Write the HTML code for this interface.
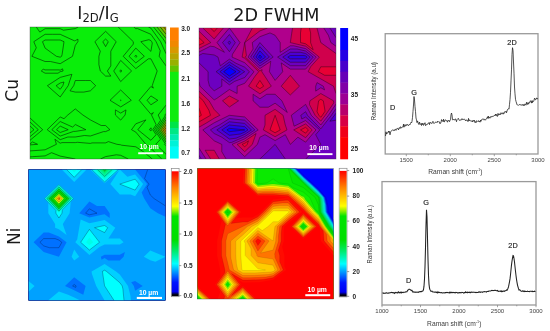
<!DOCTYPE html>
<html><head><meta charset="utf-8"><style>
html,body{margin:0;padding:0;background:#fff;}
body{width:550px;height:331px;overflow:hidden;position:relative;}
svg{position:absolute;left:0;top:0;}
.t{font-family:"DejaVu Sans",sans-serif;fill:#1a1a1a;}
.cb{font-family:"Liberation Sans",Arial,sans-serif;font-weight:bold;font-size:6.5px;fill:#222;}
.ax{font-family:"Liberation Sans",Arial,sans-serif;font-size:6px;fill:#444;}
.yl{font-family:"Liberation Sans",Arial,sans-serif;font-size:6.7px;fill:#333;}
.pk{font-family:"Liberation Sans",Arial,sans-serif;font-size:7.3px;fill:#222;stroke:#222;stroke-width:0.15px;}
.lb{font-family:"Liberation Sans",Arial,sans-serif;font-size:7.5px;fill:#3a3a3a;}
.sb{font-family:"Liberation Sans",Arial,sans-serif;font-weight:bold;font-size:6.8px;fill:#fff;}
</style></head><body>
<svg width="550" height="331" viewBox="0 0 550 331">
<defs><linearGradient id="rb3" x1="0" y1="1" x2="0" y2="0"><stop offset="0" stop-color="#000000"/><stop offset="0.012" stop-color="#000014"/><stop offset="0.035" stop-color="#0000f0"/><stop offset="0.11" stop-color="#0014ff"/><stop offset="0.26" stop-color="#00ffff"/><stop offset="0.36" stop-color="#00eb6e"/><stop offset="0.45" stop-color="#00de00"/><stop offset="0.64" stop-color="#00e400"/><stop offset="0.68" stop-color="#8cf000"/><stop offset="0.72" stop-color="#ffff00"/><stop offset="0.87" stop-color="#ff8000"/><stop offset="1.0" stop-color="#ff0000"/></linearGradient><linearGradient id="rb4" x1="0" y1="1" x2="0" y2="0"><stop offset="0" stop-color="#000000"/><stop offset="0.012" stop-color="#000014"/><stop offset="0.035" stop-color="#0000f0"/><stop offset="0.11" stop-color="#0014ff"/><stop offset="0.26" stop-color="#00ffff"/><stop offset="0.36" stop-color="#00eb6e"/><stop offset="0.45" stop-color="#00de00"/><stop offset="0.64" stop-color="#00e400"/><stop offset="0.68" stop-color="#8cf000"/><stop offset="0.72" stop-color="#ffff00"/><stop offset="0.87" stop-color="#ff8000"/><stop offset="1.0" stop-color="#ff0000"/></linearGradient></defs>
<clipPath id="c1"><rect x="30" y="27" width="136" height="132"/></clipPath><g clip-path="url(#c1)">
<rect x="30" y="27" width="136" height="132" fill="#00f9ed"/>
<path d="M30.0 27.0L45.1 27.0L60.2 27.0L75.3 27.0L90.4 27.0L105.6 27.0L120.7 27.0L135.8 27.0L150.9 27.0L166.0 27.0L166.0 41.7L166.0 56.3L166.0 71.0L166.0 85.7L166.0 100.3L166.0 115.0L166.0 129.7L166.0 144.3L166.0 159.0L150.9 159.0L135.8 159.0L120.7 159.0L105.6 159.0L90.4 159.0L75.3 159.0L60.2 159.0L45.1 159.0L30.0 159.0L30.0 144.3L30.0 129.7L30.0 115.0L30.0 100.3L30.0 85.7L30.0 71.0L30.0 56.3L30.0 41.7Z" fill="#00f2d7" fill-rule="evenodd"/>
<path d="M30.0 27.0L45.1 27.0L60.2 27.0L75.3 27.0L90.4 27.0L105.6 27.0L120.7 27.0L135.8 27.0L150.9 27.0L166.0 27.0L166.0 41.7L166.0 56.3L166.0 71.0L166.0 85.7L166.0 100.3L166.0 115.0L166.0 129.7L166.0 144.3L166.0 159.0L150.9 159.0L135.8 159.0L120.7 159.0L105.6 159.0L90.4 159.0L75.3 159.0L60.2 159.0L45.1 159.0L30.0 159.0L30.0 144.3L30.0 129.7L30.0 115.0L30.0 100.3L30.0 85.7L30.0 71.0L30.0 56.3L30.0 41.7Z" fill="#00ecb1" fill-rule="evenodd"/>
<path d="M30.0 27.0L45.1 27.0L60.2 27.0L75.3 27.0L90.4 27.0L105.6 27.0L120.7 27.0L135.8 27.0L150.9 27.0L166.0 27.0L166.0 41.7L166.0 56.3L166.0 71.0L166.0 85.7L166.0 100.3L166.0 115.0L166.0 129.7L166.0 144.3L166.0 159.0L150.9 159.0L135.8 159.0L120.7 159.0L105.6 159.0L90.4 159.0L75.3 159.0L60.2 159.0L45.1 159.0L30.0 159.0L30.0 144.3L30.0 129.7L30.0 115.0L30.0 100.3L30.0 85.7L30.0 71.0L30.0 56.3L30.0 41.7Z" fill="#00e883" fill-rule="evenodd"/>
<path d="M30.0 27.0L45.1 27.0L60.2 27.0L75.3 27.0L90.4 27.0L105.6 27.0L120.7 27.0L135.8 27.0L150.9 27.0L166.0 27.0L166.0 41.7L166.0 56.3L166.0 71.0L166.0 85.7L166.0 100.3L166.0 115.0L166.0 129.7L166.0 144.3L166.0 159.0L150.9 159.0L135.8 159.0L120.7 159.0L105.6 159.0L90.4 159.0L75.3 159.0L60.2 159.0L45.1 159.0L30.0 159.0L30.0 144.3L30.0 129.7L30.0 115.0L30.0 100.3L30.0 85.7L30.0 71.0L30.0 56.3L30.0 41.7Z" fill="#00e449" fill-rule="evenodd"/>
<path d="M30.0 27.0L45.1 27.0L60.2 27.0L75.3 27.0L90.4 27.0L105.6 27.0L120.7 27.0L135.8 27.0L150.9 27.0L166.0 27.0L166.0 41.7L166.0 56.3L166.0 71.0L166.0 85.7L166.0 100.3L166.0 115.0L166.0 129.7L166.0 144.3L166.0 159.0L150.9 159.0L135.8 159.0L120.7 159.0L105.6 159.0L90.4 159.0L75.3 159.0L60.2 159.0L45.1 159.0L30.0 159.0L30.0 144.3L30.0 129.7L30.0 115.0L30.0 100.3L30.0 85.7L30.0 71.0L30.0 56.3L30.0 41.7Z" fill="#0aee0a" fill-rule="evenodd"/>
<path d="M30.0 27.0L45.1 27.0L60.2 27.0L75.3 27.0L90.4 27.0L105.6 27.0L120.7 27.0L135.8 27.0L150.9 27.0L166.0 27.0L166.0 41.7L166.0 56.3L166.0 71.0L166.0 85.7L166.0 100.3L166.0 115.0L166.0 129.7L166.0 144.3L166.0 159.0L150.9 159.0L135.8 159.0L120.7 159.0L105.6 159.0L90.4 159.0L75.3 159.0L60.2 159.0L45.1 159.0L30.0 159.0L30.0 144.3L30.0 129.7L30.0 115.0L30.0 100.3L30.0 85.7L30.0 71.0L30.0 56.3L30.0 41.7Z" fill="#0aee0a" fill-rule="evenodd"/>
<path d="M30.0 133.0L34.0 129.7L30.0 126.0L30.0 115.0L30.0 100.3L30.0 85.7L30.0 71.0L30.0 56.3L30.0 41.7L30.0 27.0L45.1 27.0L60.2 27.0L75.3 27.0L90.4 27.0L105.6 27.0L120.7 27.0L135.8 27.0L150.9 27.0L166.0 27.0L166.0 41.7L166.0 56.3L166.0 71.0L166.0 85.7L166.0 100.3L166.0 115.0L166.0 129.7L166.0 144.3L166.0 159.0L150.9 159.0L135.8 159.0L120.7 159.0L105.6 159.0L90.4 159.0L75.3 159.0L60.2 159.0L45.1 159.0L30.0 159.0L30.0 144.3Z" fill="#0aee0a" fill-rule="evenodd"/>
<path d="M128.2 159.0L120.7 155.3L116.3 154.8L105.6 156.6L100.5 159.0L90.4 159.0L75.3 159.0L60.2 156.1L51.6 152.7L45.1 155.9L32.3 156.7L30.0 156.9L30.0 144.3L30.0 136.7L38.3 129.7L30.0 122.0L30.0 115.0L30.0 100.3L30.0 85.7L30.0 71.0L30.0 56.3L30.0 41.7L30.0 27.0L45.1 27.0L60.2 27.0L75.3 27.0L90.4 27.0L105.6 27.0L120.7 27.0L135.8 27.0L150.9 27.0L166.0 27.0L166.0 41.7L166.0 56.3L166.0 71.0L166.0 85.7L166.0 100.3L166.0 115.0L166.0 129.7L166.0 144.3L166.0 159.0L150.9 159.0L135.8 159.0ZM102.8 41.7L105.6 46.6L108.3 41.7L105.6 39.0Z" fill="#0aee0a" fill-rule="evenodd"/>
<path d="M36.3 27.0L39.8 32.1L45.1 28.7L46.9 28.7L60.2 28.7L63.5 30.2L75.3 28.6L78.2 27.0L90.4 27.0L105.6 27.0L120.7 27.0L135.8 27.0L150.9 27.0L166.0 27.0L166.0 41.7L166.0 56.3L166.0 71.0L166.0 85.7L166.0 100.3L166.0 115.0L166.0 129.7L166.0 144.3L166.0 159.0L152.1 159.0L150.9 157.8L143.3 151.7L135.8 146.8L121.6 145.2L120.7 144.8L116.9 144.3L108.4 141.6L105.6 142.9L92.0 142.9L90.4 143.4L77.4 142.3L75.3 142.6L62.0 142.6L60.2 143.2L54.9 139.2L56.4 144.3L45.1 149.8L39.0 150.3L30.0 150.9L30.0 144.3L30.0 140.3L42.7 129.7L30.0 118.0L30.0 115.0L30.0 100.3L30.0 85.7L30.0 71.0L30.0 56.3L30.0 41.7L30.0 27.0ZM94.9 41.7L100.3 51.2L98.9 56.3L98.9 64.6L100.3 71.0L105.6 76.1L110.8 76.1L107.4 71.0L110.8 65.9L110.8 56.3L110.8 51.2L116.2 41.7L105.6 31.3ZM43.2 69.2L41.3 71.0L45.1 73.2L58.0 73.2L60.2 71.7L63.1 71.0L62.5 68.8L60.2 70.2L59.1 69.9L45.1 69.9ZM73.7 85.7L70.0 90.8L75.3 92.1L83.8 92.1L90.4 90.8L95.7 85.7L90.4 80.5L85.2 80.5L75.3 80.5ZM115.4 109.9L115.4 115.0L120.7 120.1L125.1 115.0L126.0 109.9L120.7 113.1ZM149.4 129.7L150.9 130.9L151.5 130.2L151.1 129.7L151.5 129.1L150.9 127.8Z" fill="#0aee0a" fill-rule="evenodd"/>
<path d="M161.8 159.0L150.9 148.4L145.9 144.3L135.8 132.1L131.5 129.7L135.8 123.8L145.9 119.9L137.8 129.7L150.9 140.3L156.1 134.7L152.8 129.7L156.1 124.6L151.5 115.0L153.4 112.6L150.9 114.2L139.2 100.3L150.9 86.5L153.4 88.1L152.3 85.7L152.8 83.8L157.2 71.0L150.9 58.8L148.4 58.8L135.8 68.6L123.2 56.3L133.3 44.1L133.3 41.7L120.7 29.4L118.1 27.0L120.7 27.0L135.8 27.0L150.9 27.0L166.0 27.0L166.0 41.7L166.0 56.3L166.0 71.0L166.0 85.7L166.0 100.3L166.0 115.0L166.0 129.7L166.0 144.3L166.0 159.0ZM30.0 144.0L32.5 141.9L37.6 144.3L30.0 144.9L30.0 144.3ZM45.1 34.3L52.7 34.3L60.2 34.3L74.4 40.8L75.3 40.6L77.9 39.2L77.9 41.7L75.3 45.3L72.5 56.3L60.2 63.7L50.4 61.5L45.1 61.5L31.9 56.3L36.3 47.8L33.8 41.7ZM148.9 39.7L140.8 41.7L150.9 51.4L152.3 43.0L151.7 41.7L150.9 40.6ZM120.7 60.4L131.6 71.0L120.7 81.6L113.7 71.0ZM60.2 77.4L71.9 74.3L68.2 85.7L60.2 97.0L47.4 85.7ZM120.7 90.0L131.3 100.3L120.7 106.9L110.0 100.3ZM75.3 108.9L82.9 115.0L90.4 119.9L101.2 125.5L105.6 125.5L109.9 129.7L105.6 131.6L103.5 131.6L90.4 136.0L84.4 135.5L75.3 137.0L67.8 137.0L60.2 139.7L47.2 129.7L60.2 117.0L64.0 118.7L67.8 115.0Z" fill="#0aee0a" fill-rule="evenodd"/>
<path d="M166.0 65.9L159.2 56.3L160.2 50.7L156.1 41.7L150.9 34.3L137.3 28.5L135.8 28.8L133.9 27.0L135.8 27.0L150.9 27.0L166.0 27.0L166.0 41.7L166.0 56.3ZM166.0 154.2L155.8 144.3L160.6 139.1L154.5 129.7L160.6 120.2L158.2 115.0L166.0 105.1L166.0 115.0L166.0 129.7L166.0 144.3ZM45.1 40.0L58.5 40.0L60.2 40.0L64.0 41.7L62.1 54.5L61.6 56.3L60.2 57.2L56.4 56.3L45.1 48.1L42.5 41.7ZM135.8 48.1L144.3 56.3L135.8 62.9L129.0 56.3ZM120.7 69.8L121.9 71.0L120.7 72.2L119.9 71.0ZM60.2 83.0L64.0 82.0L62.8 85.7L60.2 89.3L56.1 85.7ZM120.7 99.9L121.1 100.3L120.7 100.6L120.2 100.3ZM150.9 95.9L157.8 100.3L150.9 104.8L147.1 100.3ZM60.2 121.5L72.7 127.1L75.3 124.5L85.9 129.7L75.3 131.4L73.6 131.4L60.2 136.1L51.8 129.7Z" fill="#0aee0a" fill-rule="evenodd"/>
<path d="M166.0 53.7L160.6 41.7L150.9 28.1L148.4 27.0L150.9 27.0L166.0 27.0L166.0 41.7ZM166.0 145.8L164.5 144.3L165.2 143.6L156.2 129.7L165.2 115.8L164.8 115.0L166.0 113.5L166.0 115.0L166.0 129.7L166.0 144.3ZM135.8 55.1L137.0 56.3L135.8 57.3L134.8 56.3ZM60.2 126.1L68.2 129.7L60.2 132.5L56.5 129.7Z" fill="#0aee0a" fill-rule="evenodd"/>
<path d="M166.0 43.8L165.0 41.7L162.9 38.6L153.6 27.0L166.0 27.0L166.0 41.7ZM166.0 142.2L157.9 129.7L166.0 117.1L166.0 129.7Z" fill="#1fe205" fill-rule="evenodd"/>
<path d="M166.0 38.4L157.0 27.0L166.0 27.0ZM166.0 139.6L159.5 129.7L166.0 119.7L166.0 129.7Z" fill="#54c900" fill-rule="evenodd"/>
<path d="M166.0 34.2L160.3 27.0L166.0 27.0ZM166.0 137.0L161.2 129.7L166.0 122.3L166.0 129.7Z" fill="#90b000" fill-rule="evenodd"/>
<path d="M166.0 29.9L163.7 27.0L166.0 27.0ZM166.0 134.4L162.9 129.7L166.0 124.9L166.0 129.7Z" fill="#c49500" fill-rule="evenodd"/>
<path d="M166.0 131.8L164.6 129.7L166.0 127.5L166.0 129.7Z" fill="#e57d00" fill-rule="evenodd"/>
<path d="M30.0 133.0L34.0 129.7L30.0 126.0" fill="none" stroke="#002800" stroke-width="0.8" stroke-opacity="0.75"/>
<path d="M128.2 159.0L120.7 155.3L116.3 154.8L105.6 156.6L100.5 159.0M75.3 159.0L60.2 156.1L51.6 152.7L45.1 155.9L32.3 156.7L30.0 156.9M30.0 136.7L38.3 129.7L30.0 122.0M102.8 41.7L105.6 46.6L108.3 41.7L105.6 39.0Z" fill="none" stroke="#002800" stroke-width="0.8" stroke-opacity="0.75"/>
<path d="M36.3 27.0L39.8 32.1L45.1 28.7L46.9 28.7L60.2 28.7L63.5 30.2L75.3 28.6L78.2 27.0M152.1 159.0L150.9 157.8L143.3 151.7L135.8 146.8L121.6 145.2L120.7 144.8L116.9 144.3L108.4 141.6L105.6 142.9L92.0 142.9L90.4 143.4L77.4 142.3L75.3 142.6L62.0 142.6L60.2 143.2L54.9 139.2L56.4 144.3L45.1 149.8L39.0 150.3L30.0 150.9M30.0 140.3L42.7 129.7L30.0 118.0M94.9 41.7L100.3 51.2L98.9 56.3L98.9 64.6L100.3 71.0L105.6 76.1L110.8 76.1L107.4 71.0L110.8 65.9L110.8 56.3L110.8 51.2L116.2 41.7L105.6 31.3ZM43.2 69.2L41.3 71.0L45.1 73.2L58.0 73.2L60.2 71.7L63.1 71.0L62.5 68.8L60.2 70.2L59.1 69.9L45.1 69.9ZM73.7 85.7L70.0 90.8L75.3 92.1L83.8 92.1L90.4 90.8L95.7 85.7L90.4 80.5L85.2 80.5L75.3 80.5ZM115.4 109.9L115.4 115.0L120.7 120.1L125.1 115.0L126.0 109.9L120.7 113.1ZM149.4 129.7L150.9 130.9L151.5 130.2L151.1 129.7L151.5 129.1L150.9 127.8Z" fill="none" stroke="#002800" stroke-width="0.8" stroke-opacity="0.75"/>
<path d="M161.8 159.0L150.9 148.4L145.9 144.3L135.8 132.1L131.5 129.7L135.8 123.8L145.9 119.9L137.8 129.7L150.9 140.3L156.1 134.7L152.8 129.7L156.1 124.6L151.5 115.0L153.4 112.6L150.9 114.2L139.2 100.3L150.9 86.5L153.4 88.1L152.3 85.7L152.8 83.8L157.2 71.0L150.9 58.8L148.4 58.8L135.8 68.6L123.2 56.3L133.3 44.1L133.3 41.7L120.7 29.4L118.1 27.0M30.0 144.0L32.5 141.9L37.6 144.3L30.0 144.9M45.1 34.3L52.7 34.3L60.2 34.3L74.4 40.8L75.3 40.6L77.9 39.2L77.9 41.7L75.3 45.3L72.5 56.3L60.2 63.7L50.4 61.5L45.1 61.5L31.9 56.3L36.3 47.8L33.8 41.7ZM148.9 39.7L140.8 41.7L150.9 51.4L152.3 43.0L151.7 41.7L150.9 40.6ZM120.7 60.4L131.6 71.0L120.7 81.6L113.7 71.0ZM60.2 77.4L71.9 74.3L68.2 85.7L60.2 97.0L47.4 85.7ZM120.7 90.0L131.3 100.3L120.7 106.9L110.0 100.3ZM75.3 108.9L82.9 115.0L90.4 119.9L101.2 125.5L105.6 125.5L109.9 129.7L105.6 131.6L103.5 131.6L90.4 136.0L84.4 135.5L75.3 137.0L67.8 137.0L60.2 139.7L47.2 129.7L60.2 117.0L64.0 118.7L67.8 115.0Z" fill="none" stroke="#002800" stroke-width="0.8" stroke-opacity="0.75"/>
<path d="M166.0 65.9L159.2 56.3L160.2 50.7L156.1 41.7L150.9 34.3L137.3 28.5L135.8 28.8L133.9 27.0M166.0 154.2L155.8 144.3L160.6 139.1L154.5 129.7L160.6 120.2L158.2 115.0L166.0 105.1M45.1 40.0L58.5 40.0L60.2 40.0L64.0 41.7L62.1 54.5L61.6 56.3L60.2 57.2L56.4 56.3L45.1 48.1L42.5 41.7ZM135.8 48.1L144.3 56.3L135.8 62.9L129.0 56.3ZM120.7 69.8L121.9 71.0L120.7 72.2L119.9 71.0ZM60.2 83.0L64.0 82.0L62.8 85.7L60.2 89.3L56.1 85.7ZM120.7 99.9L121.1 100.3L120.7 100.6L120.2 100.3ZM150.9 95.9L157.8 100.3L150.9 104.8L147.1 100.3ZM60.2 121.5L72.7 127.1L75.3 124.5L85.9 129.7L75.3 131.4L73.6 131.4L60.2 136.1L51.8 129.7Z" fill="none" stroke="#002800" stroke-width="0.8" stroke-opacity="0.75"/>
<path d="M166.0 53.7L160.6 41.7L150.9 28.1L148.4 27.0M166.0 145.8L164.5 144.3L165.2 143.6L156.2 129.7L165.2 115.8L164.8 115.0L166.0 113.5M135.8 55.1L137.0 56.3L135.8 57.3L134.8 56.3ZM60.2 126.1L68.2 129.7L60.2 132.5L56.5 129.7Z" fill="none" stroke="#002800" stroke-width="0.8" stroke-opacity="0.75"/>
<path d="M166.0 43.8L165.0 41.7L162.9 38.6L153.6 27.0M166.0 142.2L157.9 129.7L166.0 117.1" fill="none" stroke="#002800" stroke-width="0.8" stroke-opacity="0.75"/>
<path d="M166.0 38.4L157.0 27.0M166.0 139.6L159.5 129.7L166.0 119.7" fill="none" stroke="#002800" stroke-width="0.8" stroke-opacity="0.75"/>
<path d="M166.0 34.2L160.3 27.0M166.0 137.0L161.2 129.7L166.0 122.3" fill="none" stroke="#002800" stroke-width="0.8" stroke-opacity="0.75"/>
<path d="M166.0 29.9L163.7 27.0M166.0 134.4L162.9 129.7L166.0 124.9" fill="none" stroke="#002800" stroke-width="0.8" stroke-opacity="0.75"/>
<path d="M166.0 131.8L164.6 129.7L166.0 127.5" fill="none" stroke="#002800" stroke-width="0.8" stroke-opacity="0.75"/>
</g>
<clipPath id="c2"><rect x="199" y="28" width="137" height="131"/></clipPath><g clip-path="url(#c2)">
<rect x="199" y="28" width="137" height="131" fill="#ff0000"/>
<path d="M199.0 108.1L201.3 115.3L199.0 116.7L199.0 115.3Z" fill="#f80018" fill-rule="evenodd" stroke="#f80018" stroke-width="0.3"/>
<path d="M217.3 28.0L214.2 31.6L210.4 28.0L214.2 28.0ZM309.4 28.0L310.6 32.9L310.6 42.6L313.2 49.8L305.6 43.8L300.5 42.6L300.5 32.9L301.2 28.0L305.6 28.0ZM336.0 75.3L324.6 75.3L320.8 73.1L318.2 71.7L320.8 66.8L330.9 66.8L336.0 66.8L336.0 71.7ZM199.0 116.7L201.3 115.3L199.0 108.1L199.0 100.8L199.0 96.7L203.3 100.8L208.9 110.3L210.5 115.3L199.0 121.9ZM199.0 37.7L204.1 42.6L199.0 45.1L199.0 42.6ZM259.9 80.4L263.7 86.2L259.9 88.7L256.1 86.2ZM320.8 99.3L323.3 100.8L325.1 111.2L322.3 115.3L320.8 117.3L318.9 115.3L317.0 111.7L318.6 100.8ZM275.1 115.3L280.2 129.9L275.1 132.8L270.0 129.9ZM305.6 127.3L308.4 129.9L305.6 133.2L300.5 129.9ZM244.7 143.3L248.5 140.8L247.2 144.4L244.7 146.9L242.1 144.4Z" fill="#e80034" fill-rule="evenodd" stroke="#e80034" stroke-width="0.3"/>
<path d="M210.4 28.0L214.2 31.6L217.3 28.0L223.4 28.0L214.2 38.9L202.8 28.0ZM267.5 28.0L259.9 30.9L244.7 42.6L252.3 28.0L259.9 28.0ZM301.2 28.0L300.5 32.9L300.5 42.6L305.6 43.8L313.2 49.8L310.6 42.6L310.6 32.9L309.4 28.0L317.0 28.0L320.8 42.6L336.0 53.5L336.0 57.1L336.0 66.8L330.9 66.8L320.8 66.8L318.2 71.7L320.8 73.1L324.6 75.3L336.0 75.3L336.0 86.2L336.0 93.5L333.5 86.2L320.8 78.9L308.1 71.7L310.6 66.8L319.3 57.1L305.6 46.2L290.3 42.6L292.5 28.0ZM210.7 159.0L205.1 150.3L214.2 150.3L219.3 159.0L214.2 159.0ZM199.0 121.9L210.5 115.3L208.9 110.3L203.3 100.8L199.0 96.7L199.0 91.2L209.1 100.8L214.2 109.5L219.9 115.3L214.2 118.2L205.9 123.3L199.0 127.2ZM199.0 45.1L204.1 42.6L199.0 37.7L199.0 31.2L210.8 42.6L199.0 48.5ZM256.1 86.2L259.9 88.7L263.7 86.2L259.9 80.4ZM318.6 100.8L317.0 111.7L318.9 115.3L320.8 117.3L322.3 115.3L325.1 111.2L323.3 100.8L320.8 99.3ZM270.0 129.9L275.1 132.8L280.2 129.9L275.1 115.3ZM300.5 129.9L305.6 133.2L308.4 129.9L305.6 127.3ZM242.1 144.4L244.7 146.9L247.2 144.4L248.5 140.8L244.7 143.3ZM244.7 42.6L246.4 55.5L245.3 57.1L259.9 71.0L262.1 69.6L261.8 71.7L265.0 76.5L271.3 86.2L259.9 93.8L248.5 86.2L254.8 76.5L258.7 71.7L244.7 58.2L242.1 57.1ZM290.3 75.3L299.5 86.2L290.3 95.0L281.2 86.2ZM229.4 95.9L238.6 100.8L229.4 107.0L222.5 100.8ZM320.8 93.5L333.5 100.8L333.8 102.9L325.3 115.3L320.8 121.2L315.1 115.3L309.4 104.4L309.9 100.8ZM275.1 109.3L283.1 115.3L285.3 125.0L287.0 129.9L275.1 136.7L263.3 129.9L265.0 125.0L265.0 115.3ZM305.6 123.9L312.2 129.9L305.6 137.7L293.7 129.9ZM244.7 141.1L256.1 133.5L252.3 144.4L244.7 151.7L237.1 144.4Z" fill="#d0004c" fill-rule="evenodd" stroke="#d0004c" stroke-width="0.3"/>
<path d="M202.8 28.0L214.2 38.9L223.4 28.0L229.4 28.0L217.0 42.6L224.4 52.3L214.2 46.7L210.4 46.2L199.0 52.0L199.0 48.5L210.8 42.6L199.0 31.2L199.0 28.0ZM252.3 28.0L244.7 42.6L259.9 30.9L267.5 28.0L275.1 28.0L290.3 28.0L292.5 28.0L290.3 42.6L305.6 46.2L319.3 57.1L310.6 66.8L308.1 71.7L320.8 78.9L333.5 86.2L336.0 93.5L336.0 100.8L336.0 104.1L328.4 115.3L320.8 125.0L311.3 115.3L305.6 104.4L291.3 115.3L294.1 126.2L305.6 120.5L316.0 129.9L305.6 142.2L297.9 137.2L290.3 144.4L285.3 134.7L275.1 140.6L265.0 134.7L259.9 137.2L257.4 144.4L244.7 156.6L232.0 144.4L244.7 138.8L258.2 129.9L244.7 117.0L229.4 115.3L214.2 122.8L202.8 129.9L214.2 140.8L221.8 144.4L221.8 151.7L226.1 159.0L219.3 159.0L214.2 150.3L205.1 150.3L210.7 159.0L206.0 159.0L199.0 148.1L199.0 144.4L199.0 129.9L199.0 127.2L205.9 123.3L214.2 118.2L219.9 115.3L214.2 109.5L209.1 100.8L199.0 91.2L199.0 86.2L199.0 82.1L200.0 86.2L214.2 99.9L216.8 98.4L229.4 89.5L237.1 93.5L237.1 86.2L244.7 83.3L254.0 71.7L244.7 62.7L232.0 57.1L232.5 54.2L240.0 42.6L229.4 28.0L244.7 28.0ZM323.8 28.0L328.4 35.3L330.9 42.6L336.0 46.2L336.0 53.5L320.8 42.6L317.0 28.0L320.8 28.0ZM242.1 57.1L244.7 58.2L258.7 71.7L254.8 76.5L248.5 86.2L259.9 93.8L271.3 86.2L265.0 76.5L261.8 71.7L262.1 69.6L259.9 71.0L245.3 57.1L246.4 55.5L244.7 42.6ZM281.2 86.2L290.3 95.0L299.5 86.2L290.3 75.3ZM222.5 100.8L229.4 107.0L238.6 100.8L229.4 95.9ZM309.9 100.8L309.4 104.4L315.1 115.3L320.8 121.2L325.3 115.3L333.8 102.9L333.5 100.8L320.8 93.5ZM265.0 115.3L265.0 125.0L263.3 129.9L275.1 136.7L287.0 129.9L285.3 125.0L283.1 115.3L275.1 109.3ZM293.7 129.9L305.6 137.7L312.2 129.9L305.6 123.9ZM237.1 144.4L244.7 151.7L252.3 144.4L256.1 133.5L244.7 141.1ZM252.3 42.6L253.1 49.0L248.0 57.1L259.9 68.5L270.8 61.3L269.4 71.7L275.1 80.4L282.7 71.7L281.2 62.9L290.3 69.1L302.9 69.1L305.6 69.1L316.2 57.1L305.6 48.6L293.7 45.8L290.3 45.8L280.2 52.3L280.2 42.6L275.1 35.3L270.0 32.9L259.9 36.7ZM317.0 82.6L315.7 86.2L315.7 91.1L320.8 87.7L324.6 89.9L323.3 86.2L320.8 84.8ZM253.1 94.3L253.1 100.8L259.9 107.2L268.3 107.2L275.1 103.2L287.3 112.4L281.9 100.8L275.1 94.3L266.7 94.3L259.9 98.8Z" fill="#b0008c" fill-rule="evenodd" stroke="#b0008c" stroke-width="0.3"/>
<path d="M229.4 28.0L240.0 42.6L232.5 54.2L232.0 57.1L244.7 62.7L254.0 71.7L244.7 83.3L237.1 86.2L237.1 93.5L229.4 89.5L216.8 98.4L214.2 99.9L200.0 86.2L199.0 82.1L199.0 71.7L199.0 62.9L208.1 71.7L208.1 80.4L209.5 86.2L214.2 90.8L221.8 86.2L221.8 78.9L229.4 84.8L234.5 81.4L244.7 77.5L249.4 71.7L244.7 67.2L236.0 63.3L229.4 59.2L220.3 65.8L218.0 57.1L214.2 55.0L202.8 53.5L199.0 55.4L199.0 52.0L210.4 46.2L214.2 46.7L224.4 52.3L217.0 42.6ZM329.9 28.0L336.0 37.7L336.0 42.6L336.0 46.2L330.9 42.6L328.4 35.3L323.8 28.0ZM336.0 108.6L331.4 115.3L320.8 128.9L307.5 115.3L305.6 111.7L300.8 115.3L301.8 119.0L305.6 117.0L319.8 129.9L315.7 134.7L320.8 144.4L305.6 159.0L290.3 159.0L285.3 159.0L275.1 144.4L259.9 159.0L244.7 159.0L229.4 159.0L226.1 159.0L221.8 151.7L221.8 144.4L214.2 140.8L202.8 129.9L214.2 122.8L229.4 115.3L244.7 117.0L258.2 129.9L244.7 138.8L232.0 144.4L244.7 156.6L257.4 144.4L259.9 137.2L265.0 134.7L275.1 140.6L285.3 134.7L290.3 144.4L297.9 137.2L305.6 142.2L316.0 129.9L305.6 120.5L294.1 126.2L291.3 115.3L305.6 104.4L311.3 115.3L320.8 125.0L328.4 115.3L336.0 104.1ZM201.3 159.0L199.0 155.4L199.0 148.1L206.0 159.0ZM259.9 36.7L270.0 32.9L275.1 35.3L280.2 42.6L280.2 52.3L290.3 45.8L293.7 45.8L305.6 48.6L316.2 57.1L305.6 69.1L302.9 69.1L290.3 69.1L281.2 62.9L282.7 71.7L275.1 80.4L269.4 71.7L270.8 61.3L259.9 68.5L248.0 57.1L253.1 49.0L252.3 42.6ZM320.8 84.8L323.3 86.2L324.6 89.9L320.8 87.7L315.7 91.1L315.7 86.2L317.0 82.6ZM259.9 98.8L266.7 94.3L275.1 94.3L281.9 100.8L287.3 112.4L275.1 103.2L268.3 107.2L259.9 107.2L253.1 100.8L253.1 94.3ZM222.5 42.6L229.4 51.7L235.3 42.6L229.4 34.5ZM259.9 42.6L250.6 57.1L259.9 66.0L273.2 57.1ZM277.6 57.1L290.3 65.7L299.3 65.7L305.6 65.7L313.2 57.1L305.6 51.0L297.1 49.0L290.3 49.0ZM210.4 129.9L214.2 133.5L221.8 137.2L229.4 142.6L231.6 142.4L244.7 136.6L254.8 129.9L244.7 120.2L233.2 119.0L229.4 118.6L219.3 125.0L214.2 127.5Z" fill="#8800b0" fill-rule="evenodd" stroke="#8800b0" stroke-width="0.3"/>
<path d="M336.0 28.0L336.0 37.7L329.9 28.0ZM336.0 113.1L334.5 115.3L329.9 121.2L336.0 120.2L336.0 129.9L336.0 144.4L336.0 159.0L320.8 159.0L305.6 159.0L320.8 144.4L315.7 134.7L319.8 129.9L305.6 117.0L301.8 119.0L300.8 115.3L305.6 111.7L307.5 115.3L320.8 128.9L331.4 115.3L336.0 108.6ZM275.1 159.0L259.9 159.0L275.1 144.4L285.3 159.0ZM199.0 155.4L201.3 159.0L199.0 159.0ZM199.0 55.4L202.8 53.5L214.2 55.0L218.0 57.1L220.3 65.8L229.4 59.2L236.0 63.3L244.7 67.2L249.4 71.7L244.7 77.5L234.5 81.4L229.4 84.8L221.8 78.9L221.8 86.2L214.2 90.8L209.5 86.2L208.1 80.4L208.1 71.7L199.0 62.9L199.0 57.1ZM229.4 34.5L235.3 42.6L229.4 51.7L222.5 42.6ZM259.9 42.6L273.2 57.1L259.9 66.0L250.6 57.1ZM290.3 49.0L297.1 49.0L305.6 51.0L313.2 57.1L305.6 65.7L299.3 65.7L290.3 65.7L277.6 57.1ZM214.2 127.5L219.3 125.0L229.4 118.6L233.2 119.0L244.7 120.2L254.8 129.9L244.7 136.6L231.6 142.4L229.4 142.6L221.8 137.2L214.2 133.5L210.4 129.9ZM228.1 42.6L229.4 44.4L230.6 42.6L229.4 40.9ZM253.3 57.1L259.9 63.4L269.4 57.1L259.9 46.7ZM282.7 57.1L290.3 62.2L295.7 62.2L305.6 62.2L310.1 57.1L305.6 53.5L300.5 52.3L290.3 52.3ZM216.1 71.7L229.4 81.9L244.7 71.7L229.4 62.0ZM216.8 129.9L229.4 139.0L236.0 138.2L244.7 134.4L251.4 129.9L244.7 123.4L237.1 122.6L229.4 121.8Z" fill="#6c00c0" fill-rule="evenodd" stroke="#6c00c0" stroke-width="0.3"/>
<path d="M336.0 28.0M336.0 120.2L329.9 121.2L334.5 115.3L336.0 113.1L336.0 115.3ZM336.0 144.4M275.1 159.0M229.4 40.9L230.6 42.6L229.4 44.4L228.1 42.6ZM259.9 46.7L269.4 57.1L259.9 63.4L253.3 57.1ZM290.3 52.3L300.5 52.3L305.6 53.5L310.1 57.1L305.6 62.2L295.7 62.2L290.3 62.2L282.7 57.1ZM229.4 62.0L244.7 71.7L229.4 81.9L216.1 71.7ZM229.4 121.8L237.1 122.6L244.7 123.4L251.4 129.9L244.7 134.4L236.0 138.2L229.4 139.0L216.8 129.9ZM255.9 57.1L259.9 60.9L265.6 57.1L259.9 50.9ZM287.8 57.1L290.3 58.8L292.1 58.8L305.6 58.8L307.1 57.1L305.6 55.9L303.9 55.5L290.3 55.5ZM219.9 71.7L229.4 78.9L240.3 71.7L229.4 64.7ZM221.8 129.9L229.4 135.3L240.3 134.0L244.7 132.1L248.0 129.9L244.7 126.7L240.9 126.2L229.4 125.0Z" fill="#4c00d4" fill-rule="evenodd" stroke="#4c00d4" stroke-width="0.3"/>
<path d="M259.9 50.9L265.6 57.1L259.9 60.9L255.9 57.1ZM290.3 55.5L303.9 55.5L305.6 55.9L307.1 57.1L305.6 58.8L292.1 58.8L290.3 58.8L287.8 57.1ZM229.4 64.7L240.3 71.7L229.4 78.9L219.9 71.7ZM229.4 125.0L240.9 126.2L244.7 126.7L248.0 129.9L244.7 132.1L240.3 134.0L229.4 135.3L221.8 129.9ZM258.6 57.1L259.9 58.4L261.8 57.1L259.9 55.0ZM223.7 71.7L229.4 76.0L236.0 71.7L229.4 67.5ZM226.9 129.9L229.4 131.7L244.7 129.9L229.4 128.3Z" fill="#2c00e8" fill-rule="evenodd" stroke="#2c00e8" stroke-width="0.3"/>
<path d="M259.9 55.0L261.8 57.1L259.9 58.4L258.6 57.1ZM229.4 67.5L236.0 71.7L229.4 76.0L223.7 71.7ZM229.4 128.3L244.7 129.9L229.4 131.7L226.9 129.9Z" fill="#0800ff" fill-rule="evenodd" stroke="#0800ff" stroke-width="0.3"/>
<path d="M199.0 116.7L201.3 115.3L199.0 108.1" fill="none" stroke="#180018" stroke-width="0.6" stroke-opacity="0.7"/>
<path d="M210.4 28.0L214.2 31.6L217.3 28.0M301.2 28.0L300.5 32.9L300.5 42.6L305.6 43.8L313.2 49.8L310.6 42.6L310.6 32.9L309.4 28.0M336.0 66.8L330.9 66.8L320.8 66.8L318.2 71.7L320.8 73.1L324.6 75.3L336.0 75.3M199.0 121.9L210.5 115.3L208.9 110.3L203.3 100.8L199.0 96.7M199.0 45.1L204.1 42.6L199.0 37.7M256.1 86.2L259.9 88.7L263.7 86.2L259.9 80.4ZM318.6 100.8L317.0 111.7L318.9 115.3L320.8 117.3L322.3 115.3L325.1 111.2L323.3 100.8L320.8 99.3ZM270.0 129.9L275.1 132.8L280.2 129.9L275.1 115.3ZM300.5 129.9L305.6 133.2L308.4 129.9L305.6 127.3ZM242.1 144.4L244.7 146.9L247.2 144.4L248.5 140.8L244.7 143.3Z" fill="none" stroke="#180018" stroke-width="0.6" stroke-opacity="0.7"/>
<path d="M202.8 28.0L214.2 38.9L223.4 28.0M252.3 28.0L244.7 42.6L259.9 30.9L267.5 28.0M292.5 28.0L290.3 42.6L305.6 46.2L319.3 57.1L310.6 66.8L308.1 71.7L320.8 78.9L333.5 86.2L336.0 93.5M336.0 53.5L320.8 42.6L317.0 28.0M219.3 159.0L214.2 150.3L205.1 150.3L210.7 159.0M199.0 127.2L205.9 123.3L214.2 118.2L219.9 115.3L214.2 109.5L209.1 100.8L199.0 91.2M199.0 48.5L210.8 42.6L199.0 31.2M242.1 57.1L244.7 58.2L258.7 71.7L254.8 76.5L248.5 86.2L259.9 93.8L271.3 86.2L265.0 76.5L261.8 71.7L262.1 69.6L259.9 71.0L245.3 57.1L246.4 55.5L244.7 42.6ZM281.2 86.2L290.3 95.0L299.5 86.2L290.3 75.3ZM222.5 100.8L229.4 107.0L238.6 100.8L229.4 95.9ZM309.9 100.8L309.4 104.4L315.1 115.3L320.8 121.2L325.3 115.3L333.8 102.9L333.5 100.8L320.8 93.5ZM265.0 115.3L265.0 125.0L263.3 129.9L275.1 136.7L287.0 129.9L285.3 125.0L283.1 115.3L275.1 109.3ZM293.7 129.9L305.6 137.7L312.2 129.9L305.6 123.9ZM237.1 144.4L244.7 151.7L252.3 144.4L256.1 133.5L244.7 141.1Z" fill="none" stroke="#180018" stroke-width="0.6" stroke-opacity="0.7"/>
<path d="M229.4 28.0L240.0 42.6L232.5 54.2L232.0 57.1L244.7 62.7L254.0 71.7L244.7 83.3L237.1 86.2L237.1 93.5L229.4 89.5L216.8 98.4L214.2 99.9L200.0 86.2L199.0 82.1M336.0 46.2L330.9 42.6L328.4 35.3L323.8 28.0M226.1 159.0L221.8 151.7L221.8 144.4L214.2 140.8L202.8 129.9L214.2 122.8L229.4 115.3L244.7 117.0L258.2 129.9L244.7 138.8L232.0 144.4L244.7 156.6L257.4 144.4L259.9 137.2L265.0 134.7L275.1 140.6L285.3 134.7L290.3 144.4L297.9 137.2L305.6 142.2L316.0 129.9L305.6 120.5L294.1 126.2L291.3 115.3L305.6 104.4L311.3 115.3L320.8 125.0L328.4 115.3L336.0 104.1M199.0 148.1L206.0 159.0M199.0 52.0L210.4 46.2L214.2 46.7L224.4 52.3L217.0 42.6L229.4 28.0M259.9 36.7L270.0 32.9L275.1 35.3L280.2 42.6L280.2 52.3L290.3 45.8L293.7 45.8L305.6 48.6L316.2 57.1L305.6 69.1L302.9 69.1L290.3 69.1L281.2 62.9L282.7 71.7L275.1 80.4L269.4 71.7L270.8 61.3L259.9 68.5L248.0 57.1L253.1 49.0L252.3 42.6ZM320.8 84.8L323.3 86.2L324.6 89.9L320.8 87.7L315.7 91.1L315.7 86.2L317.0 82.6ZM259.9 98.8L266.7 94.3L275.1 94.3L281.9 100.8L287.3 112.4L275.1 103.2L268.3 107.2L259.9 107.2L253.1 100.8L253.1 94.3Z" fill="none" stroke="#180018" stroke-width="0.6" stroke-opacity="0.7"/>
<path d="M336.0 37.7L329.9 28.0M305.6 159.0L320.8 144.4L315.7 134.7L319.8 129.9L305.6 117.0L301.8 119.0L300.8 115.3L305.6 111.7L307.5 115.3L320.8 128.9L331.4 115.3L336.0 108.6M259.9 159.0L275.1 144.4L285.3 159.0M199.0 155.4L201.3 159.0M199.0 55.4L202.8 53.5L214.2 55.0L218.0 57.1L220.3 65.8L229.4 59.2L236.0 63.3L244.7 67.2L249.4 71.7L244.7 77.5L234.5 81.4L229.4 84.8L221.8 78.9L221.8 86.2L214.2 90.8L209.5 86.2L208.1 80.4L208.1 71.7L199.0 62.9M229.4 34.5L235.3 42.6L229.4 51.7L222.5 42.6ZM259.9 42.6L273.2 57.1L259.9 66.0L250.6 57.1ZM290.3 49.0L297.1 49.0L305.6 51.0L313.2 57.1L305.6 65.7L299.3 65.7L290.3 65.7L277.6 57.1ZM214.2 127.5L219.3 125.0L229.4 118.6L233.2 119.0L244.7 120.2L254.8 129.9L244.7 136.6L231.6 142.4L229.4 142.6L221.8 137.2L214.2 133.5L210.4 129.9Z" fill="none" stroke="#180018" stroke-width="0.6" stroke-opacity="0.7"/>
<path d="M336.0 28.0M336.0 120.2L329.9 121.2L334.5 115.3L336.0 113.1M336.0 144.4M275.1 159.0M229.4 40.9L230.6 42.6L229.4 44.4L228.1 42.6ZM259.9 46.7L269.4 57.1L259.9 63.4L253.3 57.1ZM290.3 52.3L300.5 52.3L305.6 53.5L310.1 57.1L305.6 62.2L295.7 62.2L290.3 62.2L282.7 57.1ZM229.4 62.0L244.7 71.7L229.4 81.9L216.1 71.7ZM229.4 121.8L237.1 122.6L244.7 123.4L251.4 129.9L244.7 134.4L236.0 138.2L229.4 139.0L216.8 129.9Z" fill="none" stroke="#180018" stroke-width="0.6" stroke-opacity="0.7"/>
<path d="M259.9 50.9L265.6 57.1L259.9 60.9L255.9 57.1ZM290.3 55.5L303.9 55.5L305.6 55.9L307.1 57.1L305.6 58.8L292.1 58.8L290.3 58.8L287.8 57.1ZM229.4 64.7L240.3 71.7L229.4 78.9L219.9 71.7ZM229.4 125.0L240.9 126.2L244.7 126.7L248.0 129.9L244.7 132.1L240.3 134.0L229.4 135.3L221.8 129.9Z" fill="none" stroke="#180018" stroke-width="0.6" stroke-opacity="0.7"/>
<path d="M259.9 55.0L261.8 57.1L259.9 58.4L258.6 57.1ZM229.4 67.5L236.0 71.7L229.4 76.0L223.7 71.7ZM229.4 128.3L244.7 129.9L229.4 131.7L226.9 129.9Z" fill="none" stroke="#180018" stroke-width="0.6" stroke-opacity="0.7"/>
</g>
<clipPath id="c3"><rect x="28.5" y="169.5" width="137" height="131"/></clipPath><g clip-path="url(#c3)">
<rect x="28.5" y="169.5" width="137" height="131" fill="#00002e"/>
<path d="M28.5 169.5L43.7 169.5L58.9 169.5L74.2 169.5L89.4 169.5L104.6 169.5L119.8 169.5L135.1 169.5L150.3 169.5L165.5 169.5L165.5 184.1L165.5 198.6L165.5 213.2L165.5 227.7L165.5 242.3L165.5 256.8L165.5 271.4L165.5 285.9L165.5 300.5L150.3 300.5L135.1 300.5L119.8 300.5L104.6 300.5L89.4 300.5L74.2 300.5L58.9 300.5L43.7 300.5L28.5 300.5L28.5 285.9L28.5 271.4L28.5 256.8L28.5 242.3L28.5 227.7L28.5 213.2L28.5 198.6L28.5 184.1Z" fill="#000090" fill-rule="evenodd"/>
<path d="M28.5 169.5L43.7 169.5L58.9 169.5L74.2 169.5L89.4 169.5L104.6 169.5L119.8 169.5L135.1 169.5L150.3 169.5L165.5 169.5L165.5 184.1L165.5 198.6L165.5 213.2L165.5 227.7L165.5 242.3L165.5 256.8L165.5 271.4L165.5 285.9L165.5 300.5L150.3 300.5L135.1 300.5L119.8 300.5L104.6 300.5L89.4 300.5L74.2 300.5L58.9 300.5L43.7 300.5L28.5 300.5L28.5 285.9L28.5 271.4L28.5 256.8L28.5 242.3L28.5 227.7L28.5 213.2L28.5 198.6L28.5 184.1Z" fill="#0000af" fill-rule="evenodd"/>
<path d="M28.5 169.5L43.7 169.5L58.9 169.5L74.2 169.5L89.4 169.5L104.6 169.5L119.8 169.5L135.1 169.5L150.3 169.5L165.5 169.5L165.5 184.1L165.5 198.6L165.5 213.2L165.5 227.7L165.5 242.3L165.5 256.8L165.5 271.4L165.5 285.9L165.5 300.5L150.3 300.5L135.1 300.5L119.8 300.5L104.6 300.5L89.4 300.5L74.2 300.5L58.9 300.5L43.7 300.5L28.5 300.5L28.5 285.9L28.5 271.4L28.5 256.8L28.5 242.3L28.5 227.7L28.5 213.2L28.5 198.6L28.5 184.1Z" fill="#0000ce" fill-rule="evenodd"/>
<path d="M28.5 169.5L43.7 169.5L58.9 169.5L74.2 169.5L89.4 169.5L104.6 169.5L119.8 169.5L135.1 169.5L150.3 169.5L165.5 169.5L165.5 184.1L165.5 198.6L165.5 213.2L165.5 227.7L165.5 242.3L165.5 256.8L165.5 271.4L165.5 285.9L165.5 300.5L150.3 300.5L135.1 300.5L119.8 300.5L104.6 300.5L89.4 300.5L74.2 300.5L58.9 300.5L43.7 300.5L28.5 300.5L28.5 285.9L28.5 271.4L28.5 256.8L28.5 242.3L28.5 227.7L28.5 213.2L28.5 198.6L28.5 184.1Z" fill="#0000ed" fill-rule="evenodd"/>
<path d="M28.5 169.5L43.7 169.5L58.9 169.5L74.2 169.5L89.4 169.5L104.6 169.5L119.8 169.5L135.1 169.5L150.3 169.5L165.5 169.5L165.5 184.1L165.5 198.6L165.5 213.2L165.5 227.7L165.5 242.3L165.5 256.8L165.5 271.4L165.5 285.9L165.5 300.5L150.3 300.5L135.1 300.5L119.8 300.5L104.6 300.5L89.4 300.5L74.2 300.5L58.9 300.5L43.7 300.5L28.5 300.5L28.5 285.9L28.5 271.4L28.5 256.8L28.5 242.3L28.5 227.7L28.5 213.2L28.5 198.6L28.5 184.1Z" fill="#0013ff" fill-rule="evenodd"/>
<path d="M28.5 169.5L43.7 169.5L58.9 169.5L74.2 169.5L89.4 169.5L104.6 169.5L119.8 169.5L135.1 169.5L150.3 169.5L165.5 169.5L165.5 184.1L165.5 198.6L165.5 213.2L165.5 227.7L165.5 242.3L165.5 256.8L165.5 271.4L165.5 285.9L165.5 300.5L150.3 300.5L135.1 300.5L119.8 300.5L104.6 300.5L89.4 300.5L74.2 300.5L58.9 300.5L43.7 300.5L28.5 300.5L28.5 285.9L28.5 271.4L28.5 256.8L28.5 242.3L28.5 227.7L28.5 213.2L28.5 198.6L28.5 184.1Z" fill="#0042ff" fill-rule="evenodd"/>
<path d="M165.5 184.1L165.5 184.1L165.5 184.1L165.5 198.6L165.5 213.2L165.5 227.7L165.5 242.3L165.5 256.8L165.5 271.4L165.5 285.9L165.5 300.5L150.3 300.5L135.1 300.5L119.8 300.5L104.6 300.5L89.4 300.5L74.2 300.5L58.9 300.5L43.7 300.5L28.5 300.5L28.5 285.9L28.5 271.4L28.5 256.8L28.5 242.3L28.5 227.7L28.5 213.2L28.5 198.6L28.5 184.1L28.5 169.5L43.7 169.5L58.9 169.5L74.2 169.5L89.4 169.5L104.6 169.5L119.8 169.5L135.1 169.5L150.3 169.5L165.5 169.5Z" fill="#0071ff" fill-rule="evenodd"/>
<path d="M135.1 169.5L147.1 184.1L141.6 192.4L144.2 198.6L150.3 208.3L157.9 213.2L165.5 216.8L165.5 227.7L165.5 242.3L165.5 256.8L165.5 271.4L165.5 285.9L165.5 300.5L150.3 300.5L135.1 300.5L119.8 300.5L104.6 300.5L89.4 300.5L74.2 300.5L58.9 300.5L43.7 300.5L28.5 300.5L28.5 285.9L28.5 271.4L28.5 256.8L28.5 242.3L28.5 227.7L28.5 213.2L28.5 198.6L28.5 184.1L28.5 169.5L43.7 169.5L58.9 169.5L74.2 169.5L89.4 169.5L104.6 169.5L119.8 169.5ZM79.2 213.2L89.4 217.6L103.1 214.6L104.6 214.3L109.7 218.0L109.7 213.2L104.6 205.9L97.0 205.9L89.4 201.5ZM33.6 242.3L43.7 252.0L58.9 256.8L66.6 242.3L58.9 236.5L48.8 232.6L43.7 232.6ZM100.8 256.8L101.6 259.7L104.6 258.0L108.4 260.5L119.8 260.5L123.6 256.8L124.9 252.0L119.8 254.8L117.7 254.8L104.6 254.8ZM65.0 285.9L74.2 290.3L83.3 294.7L85.6 285.9L74.2 277.2ZM131.2 282.3L133.9 285.9L135.1 290.8L142.7 285.9L135.1 281.1Z" fill="#00a1ff" fill-rule="evenodd"/>
<path d="M86.5 169.5L74.2 182.1L61.8 169.5L74.2 169.5ZM119.8 169.5L127.4 176.8L135.1 174.4L143.1 184.1L135.1 196.2L130.7 194.5L119.8 194.5L110.3 184.1L119.8 169.5L104.6 183.2L90.3 169.5L104.6 169.5ZM165.5 256.8L155.4 261.7L150.3 260.2L143.8 256.8L150.3 250.6ZM104.6 300.5L96.2 285.9L91.9 273.8L91.6 271.4L104.6 264.1L116.0 271.4L119.8 274.6L128.0 285.9L130.5 296.1L130.9 300.5L119.8 300.5ZM48.1 300.5L58.9 291.4L68.1 294.7L74.2 297.6L80.3 300.5L74.2 300.5L58.9 300.5ZM28.5 281.1L34.6 285.9L28.5 291.8L28.5 285.9ZM58.9 184.3L73.9 198.6L70.8 201.8L69.6 213.2L62.8 224.1L64.0 227.7L66.6 235.0L58.9 229.2L55.1 227.7L55.1 224.1L48.3 213.2L48.3 203.0L44.1 198.6ZM89.4 223.2L95.5 221.9L104.6 219.9L115.3 227.7L108.4 238.6L119.8 238.6L123.6 242.3L119.8 244.4L106.8 244.4L104.6 244.4L99.5 247.1L89.4 254.9L75.3 242.3L77.2 239.4L79.2 227.7L80.7 219.4ZM150.3 227.7M74.2 249.6L79.2 256.8L74.2 260.5L71.6 256.8Z" fill="#00d0ff" fill-rule="evenodd"/>
<path d="M81.8 169.5L74.2 177.3L66.6 169.5L74.2 169.5ZM118.3 169.5L104.6 181.9L91.7 169.5L104.6 169.5ZM114.1 300.5L104.6 285.9L102.4 271.4L104.6 270.2L106.5 271.4L119.8 282.7L122.2 285.9L122.9 288.9L124.0 300.5L119.8 300.5ZM58.9 300.5M119.8 184.1L135.1 179.2L139.1 184.1L135.1 190.1ZM58.9 184.8L73.4 198.6L62.3 209.9L62.0 213.2L58.9 218.0L55.9 213.2L55.9 210.3L44.6 198.6ZM104.6 225.5L107.7 227.7L104.6 232.6L94.5 227.7ZM89.4 229.3L99.5 242.3L89.4 250.0L80.7 242.3Z" fill="#00ffff" fill-rule="evenodd"/>
<path d="M77.0 169.5L74.2 172.4L71.3 169.5L74.2 169.5ZM116.8 169.5L104.6 180.5L93.1 169.5L104.6 169.5ZM135.1 184.1M58.9 185.3L72.8 198.6L58.9 212.8L45.2 198.6ZM89.4 237.4L93.2 242.3L89.4 245.2L86.1 242.3Z" fill="#00fce8" fill-rule="evenodd"/>
<path d="M115.3 169.5L104.6 179.1L94.6 169.5L104.6 169.5ZM58.9 185.9L72.3 198.6L58.9 212.3L45.7 198.6Z" fill="#00fad2" fill-rule="evenodd"/>
<path d="M113.7 169.5L104.6 177.7L96.0 169.5L104.6 169.5ZM58.9 186.4L71.7 198.6L58.9 211.7L46.3 198.6Z" fill="#00f7bb" fill-rule="evenodd"/>
<path d="M112.2 169.5L104.6 176.4L97.4 169.5L104.6 169.5ZM58.9 186.9L71.2 198.6L58.9 211.1L46.8 198.6Z" fill="#00f4a4" fill-rule="evenodd"/>
<path d="M110.7 169.5L104.6 175.0L98.9 169.5L104.6 169.5ZM58.9 187.5L70.6 198.6L58.9 210.6L47.4 198.6Z" fill="#00f28e" fill-rule="evenodd"/>
<path d="M109.2 169.5L104.6 173.6L100.3 169.5L104.6 169.5ZM58.9 188.0L70.1 198.6L58.9 210.0L47.9 198.6Z" fill="#00ee73" fill-rule="evenodd"/>
<path d="M107.7 169.5L104.6 172.2L101.7 169.5L104.6 169.5ZM58.9 188.5L69.5 198.6L58.9 209.4L48.5 198.6Z" fill="#00ea53" fill-rule="evenodd"/>
<path d="M106.1 169.5L104.6 170.9L103.2 169.5L104.6 169.5ZM58.9 189.0L68.9 198.6L58.9 208.8L49.0 198.6Z" fill="#00e633" fill-rule="evenodd"/>
<path d="M58.9 189.6L68.4 198.6L58.9 208.3L49.6 198.6Z" fill="#00e213" fill-rule="evenodd"/>
<path d="M58.9 190.1L67.8 198.6L58.9 207.7L50.1 198.6Z" fill="#01e100" fill-rule="evenodd"/>
<path d="M58.9 190.6L67.3 198.6L58.9 207.1L50.7 198.6Z" fill="#04e400" fill-rule="evenodd"/>
<path d="M58.9 191.2L66.7 198.6L58.9 206.6L51.2 198.6Z" fill="#07e700" fill-rule="evenodd"/>
<path d="M58.9 191.7L66.2 198.6L58.9 206.0L51.8 198.6Z" fill="#0aea00" fill-rule="evenodd"/>
<path d="M58.9 192.2L65.6 198.6L58.9 205.4L52.3 198.6Z" fill="#0ded00" fill-rule="evenodd"/>
<path d="M58.9 192.8L65.1 198.6L58.9 204.9L52.9 198.6Z" fill="#0fef00" fill-rule="evenodd"/>
<path d="M58.9 193.3L64.5 198.6L58.9 204.3L53.4 198.6Z" fill="#45f300" fill-rule="evenodd"/>
<path d="M58.9 193.8L63.9 198.6L58.9 203.7L54.0 198.6Z" fill="#88f800" fill-rule="evenodd"/>
<path d="M58.9 194.4L63.4 198.6L58.9 203.2L54.5 198.6Z" fill="#cafc00" fill-rule="evenodd"/>
<path d="M58.9 194.9L62.8 198.6L58.9 202.6L55.1 198.6Z" fill="#fffb00" fill-rule="evenodd"/>
<path d="M58.9 195.4L62.3 198.6L58.9 202.0L55.6 198.6Z" fill="#ffe600" fill-rule="evenodd"/>
<path d="M58.9 196.0L61.7 198.6L58.9 201.5L56.2 198.6Z" fill="#ffd000" fill-rule="evenodd"/>
<path d="M58.9 196.5L61.2 198.6L58.9 200.9L56.7 198.6Z" fill="#ffbb00" fill-rule="evenodd"/>
<path d="M58.9 197.0L60.6 198.6L58.9 200.3L57.3 198.6Z" fill="#ffa600" fill-rule="evenodd"/>
<path d="M58.9 197.5L60.1 198.6L58.9 199.7L57.8 198.6Z" fill="#ff9100" fill-rule="evenodd"/>
<path d="M58.9 198.1L59.5 198.6L58.9 199.2L58.4 198.6Z" fill="#ff7b00" fill-rule="evenodd"/>
<path d="M147.7 169.5L144.6 178.6L149.1 184.1L147.0 187.2L150.3 195.0L154.1 198.6L165.5 205.9M85.6 213.2L89.4 214.8L97.0 213.2L89.4 208.8ZM39.9 242.3L43.7 245.9L49.4 247.7L58.9 247.7L61.8 242.3L58.9 240.1L55.1 238.6L43.7 238.6ZM72.6 285.9L74.2 286.7L75.7 287.4L76.1 285.9L74.2 284.5Z" fill="none" stroke="#002" stroke-width="0.55" stroke-opacity="0.5"/>
<path d="M81.8 169.5L74.2 177.3L66.6 169.5M118.3 169.5L104.6 181.9L91.7 169.5M114.1 300.5L104.6 285.9L102.4 271.4L104.6 270.2L106.5 271.4L119.8 282.7L122.2 285.9L122.9 288.9L124.0 300.5M58.9 300.5M119.8 184.1L135.1 179.2L139.1 184.1L135.1 190.1ZM58.9 184.8L73.4 198.6L62.3 209.9L62.0 213.2L58.9 218.0L55.9 213.2L55.9 210.3L44.6 198.6ZM104.6 225.5L107.7 227.7L104.6 232.6L94.5 227.7ZM89.4 229.3L99.5 242.3L89.4 250.0L80.7 242.3Z" fill="none" stroke="#002" stroke-width="0.55" stroke-opacity="0.5"/>
<path d="M112.2 169.5L104.6 176.4L97.4 169.5M58.9 186.9L71.2 198.6L58.9 211.1L46.8 198.6Z" fill="none" stroke="#002" stroke-width="0.55" stroke-opacity="0.5"/>
<path d="M106.1 169.5L104.6 170.9L103.2 169.5M58.9 189.0L68.9 198.6L58.9 208.8L49.0 198.6Z" fill="none" stroke="#002" stroke-width="0.55" stroke-opacity="0.5"/>
<path d="M58.9 191.2L66.7 198.6L58.9 206.6L51.2 198.6Z" fill="none" stroke="#002" stroke-width="0.55" stroke-opacity="0.5"/>
<path d="M58.9 193.3L64.5 198.6L58.9 204.3L53.4 198.6Z" fill="none" stroke="#002" stroke-width="0.55" stroke-opacity="0.5"/>
<path d="M58.9 195.4L62.3 198.6L58.9 202.0L55.6 198.6Z" fill="none" stroke="#002" stroke-width="0.55" stroke-opacity="0.5"/>
<path d="M58.9 197.5L60.1 198.6L58.9 199.7L57.8 198.6Z" fill="none" stroke="#002" stroke-width="0.55" stroke-opacity="0.5"/>
</g>
<clipPath id="c4"><rect x="197.5" y="168.5" width="136" height="130.5"/></clipPath><g clip-path="url(#c4)">
<rect x="197.5" y="168.5" width="136" height="130.5" fill="#0000ff"/>
<path d="M297.1 168.5L303.3 174.8L312.3 183.0L318.4 188.6L326.1 197.5L328.3 207.0L328.7 212.0L333.5 220.1L333.5 226.5L333.5 241.0L333.5 255.5L333.5 270.0L333.5 284.5L333.5 299.0L318.4 299.0L303.3 299.0L288.2 299.0L273.1 299.0L257.9 299.0L242.8 299.0L227.7 299.0L212.6 299.0L197.5 299.0L197.5 284.5L197.5 270.0L197.5 255.5L197.5 241.0L197.5 226.5L197.5 212.0L197.5 197.5L197.5 183.0L197.5 168.5L212.6 168.5L227.7 168.5L242.8 168.5L257.9 168.5L273.1 168.5L288.2 168.5Z" fill="#0000ff" fill-rule="evenodd"/>
<path d="M296.2 168.5L303.3 175.8L311.3 183.0L318.4 189.6L325.3 197.5L327.2 206.0L327.7 212.0L333.5 221.7L333.5 226.5L333.5 241.0L333.5 255.5L333.5 270.0L333.5 284.5L333.5 299.0L318.4 299.0L303.3 299.0L288.2 299.0L273.1 299.0L257.9 299.0L242.8 299.0L227.7 299.0L212.6 299.0L197.5 299.0L197.5 284.5L197.5 270.0L197.5 255.5L197.5 241.0L197.5 226.5L197.5 212.0L197.5 197.5L197.5 183.0L197.5 168.5L212.6 168.5L227.7 168.5L242.8 168.5L257.9 168.5L273.1 168.5L288.2 168.5Z" fill="#001cff" fill-rule="evenodd"/>
<path d="M295.3 168.5L303.3 176.7L310.3 183.0L318.4 190.5L324.5 197.5L326.2 205.0L326.7 212.0L333.5 223.3L333.5 226.5L333.5 241.0L333.5 255.5L333.5 270.0L333.5 284.5L333.5 299.0L318.4 299.0L303.3 299.0L288.2 299.0L273.1 299.0L257.9 299.0L242.8 299.0L227.7 299.0L212.6 299.0L197.5 299.0L197.5 284.5L197.5 270.0L197.5 255.5L197.5 241.0L197.5 226.5L197.5 212.0L197.5 197.5L197.5 183.0L197.5 168.5L212.6 168.5L227.7 168.5L242.8 168.5L257.9 168.5L273.1 168.5L288.2 168.5Z" fill="#007bff" fill-rule="evenodd"/>
<path d="M294.4 168.5L303.3 177.6L309.3 183.0L318.4 191.5L323.6 197.5L325.1 203.9L325.8 212.0L333.5 224.9L333.5 226.5L333.5 241.0L333.5 255.5L333.5 270.0L333.5 284.5L333.5 299.0L318.4 299.0L303.3 299.0L288.2 299.0L273.1 299.0L257.9 299.0L242.8 299.0L227.7 299.0L212.6 299.0L197.5 299.0L197.5 284.5L197.5 270.0L197.5 255.5L197.5 241.0L197.5 226.5L197.5 212.0L197.5 197.5L197.5 183.0L197.5 168.5L212.6 168.5L227.7 168.5L242.8 168.5L257.9 168.5L273.1 168.5L288.2 168.5Z" fill="#00d9ff" fill-rule="evenodd"/>
<path d="M293.5 168.5L303.3 178.5L308.3 183.0L318.4 192.4L322.8 197.5L324.1 202.9L324.8 212.0L333.5 226.5L333.5 241.0L333.5 255.5L333.5 270.0L333.5 284.5L333.5 299.0L318.4 299.0L303.3 299.0L288.2 299.0L273.1 299.0L257.9 299.0L242.8 299.0L227.7 299.0L212.6 299.0L197.5 299.0L197.5 284.5L197.5 270.0L197.5 255.5L197.5 241.0L197.5 226.5L197.5 212.0L197.5 197.5L197.5 183.0L197.5 168.5L212.6 168.5L227.7 168.5L242.8 168.5L257.9 168.5L273.1 168.5L288.2 168.5Z" fill="#00fce4" fill-rule="evenodd"/>
<path d="M292.6 168.5L303.3 179.4L307.3 183.0L318.4 193.4L322.0 197.5L323.0 201.9L323.8 212.0L331.2 224.3L332.5 226.5L333.5 227.8L333.5 241.0L333.5 255.5L333.5 270.0L333.5 284.5L333.5 299.0L318.4 299.0L303.3 299.0L288.2 299.0L273.1 299.0L257.9 299.0L242.8 299.0L227.7 299.0L212.6 299.0L197.5 299.0L197.5 284.5L197.5 270.0L197.5 255.5L197.5 241.0L197.5 226.5L197.5 212.0L197.5 197.5L197.5 183.0L197.5 168.5L212.6 168.5L227.7 168.5L242.8 168.5L257.9 168.5L273.1 168.5L288.2 168.5Z" fill="#00f6b6" fill-rule="evenodd"/>
<path d="M291.7 168.5L303.3 180.3L306.3 183.0L318.4 194.3L321.2 197.5L322.0 200.9L322.8 212.0L328.9 222.1L331.5 226.5L333.5 229.1L333.5 241.0L333.5 255.5L333.5 270.0L333.5 284.5L333.5 299.0L318.4 299.0L303.3 299.0L288.2 299.0L273.1 299.0L257.9 299.0L242.8 299.0L227.7 299.0L212.6 299.0L197.5 299.0L197.5 284.5L197.5 270.0L197.5 255.5L197.5 241.0L197.5 226.5L197.5 212.0L197.5 197.5L197.5 183.0L197.5 168.5L212.6 168.5L227.7 168.5L242.8 168.5L257.9 168.5L273.1 168.5L288.2 168.5Z" fill="#00f189" fill-rule="evenodd"/>
<path d="M290.8 168.5L303.3 181.2L305.3 183.0L318.4 195.2L320.4 197.5L320.9 199.9L321.9 212.0L326.6 219.9L330.6 226.5L333.5 230.5L333.5 241.0L333.5 255.5L333.5 270.0L333.5 284.5L333.5 299.0L318.4 299.0L303.3 299.0L288.2 299.0L273.1 299.0L257.9 299.0L242.8 299.0L227.7 299.0L212.6 299.0L197.5 299.0L197.5 284.5L197.5 270.0L197.5 255.5L197.5 241.0L197.5 226.5L197.5 212.0L197.5 197.5L197.5 183.0L197.5 168.5L212.6 168.5L227.7 168.5L242.8 168.5L257.9 168.5L273.1 168.5L288.2 168.5Z" fill="#00ea4d" fill-rule="evenodd"/>
<path d="M289.9 168.5L303.3 182.1L304.3 183.0L318.4 196.2L319.5 197.5L319.9 198.9L320.9 212.0L324.3 217.7L329.6 226.5L333.5 231.8L333.5 241.0L333.5 255.5L333.5 270.0L333.5 284.5L333.5 299.0L318.4 299.0L303.3 299.0L288.2 299.0L273.1 299.0L257.9 299.0L242.8 299.0L227.7 299.0L212.6 299.0L197.5 299.0L197.5 284.5L197.5 270.0L197.5 255.5L197.5 241.0L197.5 226.5L197.5 212.0L197.5 197.5L197.5 183.0L197.5 168.5L212.6 168.5L227.7 168.5L242.8 168.5L257.9 168.5L273.1 168.5L288.2 168.5Z" fill="#00e20d" fill-rule="evenodd"/>
<path d="M289.1 168.5L303.3 183.0L318.4 197.1L318.7 197.5L318.8 197.9L319.9 212.0L322.1 215.5L328.6 226.5L333.5 233.1L333.5 241.0L333.5 255.5L333.5 270.0L333.5 284.5L333.5 299.0L318.4 299.0L303.3 299.0L288.2 299.0L273.1 299.0L257.9 299.0L242.8 299.0L227.7 299.0L212.6 299.0L197.5 299.0L197.5 284.5L197.5 270.0L197.5 255.5L197.5 241.0L197.5 226.5L197.5 212.0L197.5 197.5L197.5 183.0L197.5 168.5L212.6 168.5L227.7 168.5L242.8 168.5L257.9 168.5L273.1 168.5L288.2 168.5Z" fill="#05e500" fill-rule="evenodd"/>
<path d="M288.2 168.5L292.5 183.0L303.3 187.5L315.2 197.5L318.4 204.8L319.0 212.0L319.8 213.3L327.6 226.5L333.5 234.4L333.5 241.0L333.5 255.5L333.5 270.0L333.5 284.5L333.5 299.0L318.4 299.0L303.3 299.0L288.2 299.0L273.1 299.0L257.9 299.0L242.8 299.0L227.7 299.0L212.6 299.0L198.4 299.0L197.5 298.2L197.5 284.5L197.5 270.0L197.5 255.5L197.5 241.0L197.5 226.5L197.5 212.0L197.5 197.5L197.5 183.0L197.5 168.5L212.6 168.5L227.7 168.5L242.8 168.5L257.9 168.5L273.1 168.5ZM227.0 212.0L227.7 213.1L228.6 212.0L227.7 211.2ZM302.5 226.5L303.3 227.3L304.2 226.5L303.3 225.6Z" fill="#0aea00" fill-rule="evenodd"/>
<path d="M257.3 168.5L257.2 169.2L256.9 183.0L257.9 183.9L267.0 183.0L273.1 178.9L279.1 183.0L288.2 184.0L293.2 187.8L303.3 192.1L309.8 197.5L314.6 208.4L317.7 212.0L318.4 212.7L326.6 226.5L333.5 235.7L333.5 241.0L333.5 255.5L333.5 270.0L333.5 284.5L333.5 299.0L318.4 299.0L303.3 299.0L288.2 299.0L273.1 299.0L257.9 299.0L244.3 299.0L242.8 297.5L240.8 299.0L227.7 299.0L212.6 299.0L199.8 299.0L197.5 296.9L197.5 284.5L197.5 270.0L197.5 255.5L197.5 241.0L197.5 226.5L197.5 212.0L197.5 197.5L197.5 183.0L197.5 168.5L212.6 168.5L227.7 168.5L242.8 168.5ZM225.7 212.0L227.7 214.9L230.0 212.0L227.7 210.0ZM301.1 226.5L303.3 228.6L305.7 226.5L303.3 224.2ZM227.1 284.5L227.7 285.4L228.4 284.5L227.7 283.6Z" fill="#10f000" fill-rule="evenodd"/>
<path d="M255.5 168.5L255.4 170.9L255.1 183.0L257.9 185.5L272.0 184.0L273.1 184.0L274.2 184.1L288.2 185.7L301.6 195.9L303.3 196.6L304.4 197.5L305.2 199.3L316.0 212.0L318.4 214.3L325.7 226.5L333.5 237.0L333.5 241.0L333.5 255.5L333.5 270.0L333.5 284.5L333.5 299.0L318.4 299.0L303.3 299.0L288.2 299.0L273.1 299.0L257.9 299.0L245.9 299.0L242.8 296.0L238.7 299.0L227.7 299.0L212.6 299.0L201.3 299.0L197.5 295.6L197.5 284.5L197.5 270.0L197.5 255.5L197.5 241.0L197.5 226.5L197.5 212.0L197.5 197.5L197.5 183.0L197.5 168.5L212.6 168.5L227.7 168.5L242.8 168.5ZM224.4 212.0L227.7 216.7L231.4 212.0L227.7 208.8ZM299.8 226.5L303.3 229.9L307.2 226.5L303.3 222.7ZM225.6 284.5L227.7 287.5L230.0 284.5L227.7 281.5Z" fill="#95f800" fill-rule="evenodd"/>
<path d="M253.8 168.5L253.6 172.6L253.4 183.0L257.9 187.0L270.2 185.8L273.1 185.8L276.2 186.1L288.2 187.4L301.5 197.5L303.3 199.1L314.3 212.0L318.4 216.0L324.7 226.5L333.5 238.4L333.5 241.0L333.5 255.5L333.5 270.0L333.5 284.5L333.5 299.0L318.4 299.0L303.3 299.0L288.2 299.0L273.1 299.0L257.9 299.0L247.4 299.0L242.8 294.6L236.7 299.0L227.7 299.0L212.6 299.0L202.7 299.0L197.5 294.3L197.5 284.5L197.5 270.0L197.5 255.5L197.5 241.0L197.5 226.5L197.5 212.0L197.5 197.5L197.5 183.0L197.5 168.5L212.6 168.5L227.7 168.5L242.8 168.5ZM223.2 212.0L227.7 218.5L232.8 212.0L227.7 207.5ZM298.4 226.5L303.3 231.2L308.7 226.5L303.3 221.3ZM224.1 284.5L227.7 289.6L231.7 284.5L227.7 279.4Z" fill="#fff700" fill-rule="evenodd"/>
<path d="M252.1 168.5L251.8 174.4L251.6 183.0L257.9 188.6L268.4 187.5L273.1 187.5L278.2 188.0L288.2 189.1L299.3 197.5L303.3 201.1L312.6 212.0L318.4 217.6L323.7 226.5L333.5 239.7L333.5 241.0L333.5 255.5L333.5 270.0L333.5 284.5L333.5 299.0L318.4 299.0L303.3 299.0L288.2 299.0L273.1 299.0L257.9 299.0L248.9 299.0L242.8 293.1L234.7 299.0L227.7 299.0L212.6 299.0L204.2 299.0L197.5 293.0L197.5 284.5L197.5 270.0L197.5 255.5L197.5 241.0L197.5 226.5L197.5 212.0L197.5 197.5L197.5 183.0L197.5 168.5L212.6 168.5L227.7 168.5L242.8 168.5ZM221.9 212.0L227.7 220.3L234.2 212.0L227.7 206.2ZM272.1 212.0L257.9 225.6L256.2 226.5L242.8 239.3L240.8 241.0L240.8 253.6L240.8 255.5L241.8 269.0L242.0 270.0L242.8 270.5L257.4 270.5L257.9 270.5L265.5 270.0L257.9 268.8L245.2 255.5L245.2 243.2L244.0 241.0L257.9 227.6L262.3 230.6L268.0 226.5L273.1 221.7L278.1 221.7L288.2 212.8L289.2 212.0L288.2 210.9L274.2 210.9L273.1 211.1ZM297.1 226.5L303.3 232.5L310.2 226.5L303.3 219.8ZM222.6 284.5L227.7 291.8L233.3 284.5L227.7 277.2Z" fill="#ffcc00" fill-rule="evenodd"/>
<path d="M250.4 168.5L250.0 176.1L249.9 183.0L257.9 190.1L266.6 189.2L273.1 189.2L280.2 189.9L288.2 190.8L297.1 197.5L303.3 203.1L310.8 212.0L318.4 219.2L322.7 226.5L333.5 241.0L333.5 255.5L333.5 270.0L333.5 284.5L333.5 299.0L318.4 299.0L303.3 299.0L288.2 299.0L273.1 299.0L257.9 299.0L250.4 299.0L242.8 291.6L232.6 299.0L227.7 299.0L212.6 299.0L205.6 299.0L197.5 291.8L197.5 284.5L197.5 270.0L197.5 255.5L197.5 241.0L197.5 226.5L197.5 212.0L197.5 197.5L197.5 183.0L197.5 168.5L212.6 168.5L227.7 168.5L242.8 168.5ZM220.7 212.0L227.7 222.2L235.6 212.0L227.7 205.0ZM269.9 212.0L257.9 223.4L251.7 226.5L242.8 235.0L235.8 241.0L235.8 248.7L235.8 255.5L236.4 263.8L237.8 270.0L242.8 272.9L254.9 272.9L257.9 272.8L271.0 272.0L273.1 271.6L275.2 270.0L273.1 265.2L267.0 264.2L257.9 262.8L251.0 255.5L251.0 248.8L246.9 241.0L257.9 230.4L273.1 241.0L274.9 226.5L288.2 214.9L291.8 212.0L288.2 208.2L277.0 208.2L273.1 208.7ZM295.7 226.5L303.3 233.8L311.7 226.5L303.3 218.4ZM221.1 284.5L227.7 293.9L234.9 284.5L227.7 275.1Z" fill="#ffa200" fill-rule="evenodd"/>
<path d="M248.7 168.5L248.2 177.8L248.1 183.0L257.9 191.6L264.8 190.9L273.1 190.9L282.2 191.8L288.2 192.4L294.8 197.5L303.3 205.2L309.1 212.0L318.4 220.9L321.7 226.5L330.1 237.7L330.4 241.0L333.5 244.6L333.5 255.5L333.5 270.0L333.5 284.5L333.5 299.0L318.4 299.0L303.3 299.0L288.2 299.0L273.1 299.0L257.9 299.0L251.9 299.0L242.8 290.1L230.6 299.0L227.7 299.0L212.6 299.0L207.1 299.0L197.5 290.5L197.5 284.5L197.5 270.0L197.5 255.5L197.5 241.0L197.5 226.5L197.5 212.0L197.5 197.5L197.5 183.0L197.5 168.5L212.6 168.5L227.7 168.5L242.8 168.5ZM219.4 212.0L227.7 224.0L237.0 212.0L227.7 203.8ZM267.6 212.0L257.9 221.2L247.3 226.5L242.8 230.8L230.7 241.0L230.7 243.9L230.7 255.5L231.0 258.6L233.6 270.0L242.8 275.3L252.4 275.3L257.9 275.1L268.4 274.5L273.1 273.6L277.9 270.0L273.1 259.1L259.5 256.9L257.9 256.7L256.8 255.5L256.8 254.4L249.8 241.0L257.9 233.2L269.1 241.0L260.5 253.1L273.1 250.1L275.8 241.0L275.8 238.4L277.3 226.5L288.2 217.0L294.4 212.0L288.2 205.6L279.8 205.6L273.1 206.4ZM294.4 226.5L303.3 235.0L313.3 226.5L303.3 216.9ZM219.6 284.5L227.7 296.0L236.6 284.5L227.7 273.0Z" fill="#ff7500" fill-rule="evenodd"/>
<path d="M247.0 168.5L246.4 179.5L246.3 183.0L257.9 193.2L263.0 192.7L273.1 192.7L284.2 193.7L288.2 194.1L292.6 197.5L303.3 207.2L307.4 212.0L318.4 222.5L320.7 226.5L326.6 234.4L327.2 241.0L333.5 248.2L333.5 255.5L333.5 270.0L333.5 284.5L333.5 299.0L318.4 299.0L303.3 299.0L288.2 299.0L273.1 299.0L257.9 299.0L253.4 299.0L242.8 288.6L228.5 299.0L227.7 299.0L212.6 299.0L208.5 299.0L197.5 289.2L197.5 284.5L197.5 270.0L197.5 255.5L197.5 241.0L197.5 226.5L197.5 212.0L197.5 197.5L197.5 183.0L197.5 168.5L212.6 168.5L227.7 168.5L242.8 168.5ZM218.2 212.0L227.7 225.8L238.4 212.0L227.7 202.5ZM265.3 212.0L257.9 219.0L242.8 226.5L227.7 233.8L225.9 241.0L225.9 253.8L225.9 255.5L227.7 262.8L229.4 270.0L242.8 277.7L249.9 277.7L257.9 277.5L265.8 277.0L273.1 275.6L280.6 270.0L274.9 257.3L274.9 255.5L274.6 254.1L278.5 241.0L278.5 235.8L279.7 226.5L288.2 219.0L297.0 212.0L288.2 202.9L282.6 202.9L273.1 204.0ZM293.0 226.5L303.3 236.3L314.8 226.5L303.3 215.5ZM257.9 236.0L265.1 241.0L257.9 251.0L252.7 241.0ZM218.1 284.5L227.7 298.1L238.2 284.5L227.7 270.9Z" fill="#ff4000" fill-rule="evenodd"/>
<path d="M245.2 168.5L244.6 181.3L244.6 183.0L257.9 194.7L261.2 194.4L273.1 194.4L286.2 195.6L288.2 195.8L290.4 197.5L303.3 209.2L305.7 212.0L318.4 224.2L319.8 226.5L323.2 231.1L324.1 241.0L333.5 251.9L333.5 255.5L333.5 270.0L333.5 284.5L333.5 299.0L318.4 299.0L303.3 299.0L288.2 299.0L273.1 299.0L257.9 299.0L254.9 299.0L242.8 287.2L231.5 295.4L239.9 284.5L231.5 273.6L242.8 280.1L247.4 280.1L257.9 279.8L263.2 279.5L273.1 277.7L283.3 270.0L279.7 261.8L279.7 255.5L278.3 250.4L281.2 241.0L281.2 233.2L282.0 226.5L288.2 221.1L299.6 212.0L288.2 200.2L285.4 200.2L273.1 201.7L263.0 212.0L257.9 216.8L247.6 222.0L242.8 222.0L231.0 223.4L239.8 212.0L227.7 201.2L216.9 212.0L225.5 224.3L224.9 226.5L224.2 229.8L221.5 241.0L221.5 249.5L221.5 255.5L224.2 266.7L224.9 270.0L224.9 272.7L216.5 284.5L224.9 296.3L223.9 299.0L212.6 299.0L210.0 299.0L197.5 287.9L197.5 284.5L197.5 270.0L197.5 255.5L197.5 241.0L197.5 226.5L197.5 212.0L197.5 197.5L197.5 183.0L197.5 168.5L212.6 168.5L227.7 168.5L242.8 168.5ZM291.7 226.5L303.3 237.6L316.3 226.5L303.3 214.0ZM257.9 238.8L261.1 241.0L257.9 245.5L255.6 241.0Z" fill="#ff0b00" fill-rule="evenodd"/>
<path d="M243.5 168.5L242.8 183.0L257.9 196.3L259.4 196.1L273.1 196.1L288.2 197.5L303.3 211.2L304.0 212.0L318.4 225.8L318.8 226.5L319.8 227.8L320.9 241.0L333.5 255.5L333.5 270.0L333.5 284.5L333.5 299.0L318.4 299.0L303.3 299.0L288.2 299.0L273.1 299.0L257.9 299.0L256.4 299.0L242.8 285.7L237.8 289.3L241.5 284.5L237.8 279.7L242.8 282.6L244.8 282.6L257.9 282.2L260.5 282.0L273.1 279.7L286.0 270.0L284.4 266.4L284.4 255.5L282.1 246.8L283.8 241.0L283.8 230.6L284.4 226.5L288.2 223.2L302.2 212.0L288.2 197.5L273.1 199.4L260.7 212.0L257.9 214.6L252.3 217.4L242.8 217.4L236.4 218.2L241.2 212.0L227.7 200.0L215.6 212.0L221.7 220.7L220.2 226.5L218.4 235.4L217.1 241.0L217.1 245.3L217.1 255.5L218.4 261.1L220.2 270.0L220.2 277.2L215.0 284.5L220.2 291.8L217.6 299.0L212.6 299.0L211.4 299.0L197.5 286.6L197.5 284.5L197.5 270.0L197.5 255.5L197.5 241.0L197.5 226.5L197.5 212.0L197.5 197.5L197.5 183.0L197.5 168.5L212.6 168.5L227.7 168.5L242.8 168.5ZM290.3 226.5L303.3 238.9L317.8 226.5L303.3 212.6Z" fill="#ff0000" fill-rule="evenodd"/>
<path d="M297.1 168.5L303.3 174.8L312.3 183.0L318.4 188.6L326.1 197.5L328.3 207.0L328.7 212.0L333.5 220.1" fill="none" stroke="#000" stroke-width="0.5" stroke-opacity="0.18"/>
<path d="M296.2 168.5L303.3 175.8L311.3 183.0L318.4 189.6L325.3 197.5L327.2 206.0L327.7 212.0L333.5 221.7" fill="none" stroke="#000" stroke-width="0.5" stroke-opacity="0.18"/>
<path d="M295.3 168.5L303.3 176.7L310.3 183.0L318.4 190.5L324.5 197.5L326.2 205.0L326.7 212.0L333.5 223.3" fill="none" stroke="#000" stroke-width="0.5" stroke-opacity="0.18"/>
<path d="M294.4 168.5L303.3 177.6L309.3 183.0L318.4 191.5L323.6 197.5L325.1 203.9L325.8 212.0L333.5 224.9" fill="none" stroke="#000" stroke-width="0.5" stroke-opacity="0.18"/>
<path d="M293.5 168.5L303.3 178.5L308.3 183.0L318.4 192.4L322.8 197.5L324.1 202.9L324.8 212.0L333.5 226.5" fill="none" stroke="#000" stroke-width="0.5" stroke-opacity="0.18"/>
<path d="M292.6 168.5L303.3 179.4L307.3 183.0L318.4 193.4L322.0 197.5L323.0 201.9L323.8 212.0L331.2 224.3L332.5 226.5L333.5 227.8" fill="none" stroke="#000" stroke-width="0.5" stroke-opacity="0.18"/>
<path d="M291.7 168.5L303.3 180.3L306.3 183.0L318.4 194.3L321.2 197.5L322.0 200.9L322.8 212.0L328.9 222.1L331.5 226.5L333.5 229.1" fill="none" stroke="#000" stroke-width="0.5" stroke-opacity="0.18"/>
<path d="M290.8 168.5L303.3 181.2L305.3 183.0L318.4 195.2L320.4 197.5L320.9 199.9L321.9 212.0L326.6 219.9L330.6 226.5L333.5 230.5" fill="none" stroke="#000" stroke-width="0.5" stroke-opacity="0.18"/>
<path d="M289.9 168.5L303.3 182.1L304.3 183.0L318.4 196.2L319.5 197.5L319.9 198.9L320.9 212.0L324.3 217.7L329.6 226.5L333.5 231.8" fill="none" stroke="#000" stroke-width="0.5" stroke-opacity="0.18"/>
<path d="M289.1 168.5L303.3 183.0L318.4 197.1L318.7 197.5L318.8 197.9L319.9 212.0L322.1 215.5L328.6 226.5L333.5 233.1" fill="none" stroke="#000" stroke-width="0.5" stroke-opacity="0.18"/>
<path d="M288.2 168.5L292.5 183.0L303.3 187.5L315.2 197.5L318.4 204.8L319.0 212.0L319.8 213.3L327.6 226.5L333.5 234.4M198.4 299.0L197.5 298.2M227.0 212.0L227.7 213.1L228.6 212.0L227.7 211.2ZM302.5 226.5L303.3 227.3L304.2 226.5L303.3 225.6Z" fill="none" stroke="#000" stroke-width="0.5" stroke-opacity="0.18"/>
<path d="M257.3 168.5L257.2 169.2L256.9 183.0L257.9 183.9L267.0 183.0L273.1 178.9L279.1 183.0L288.2 184.0L293.2 187.8L303.3 192.1L309.8 197.5L314.6 208.4L317.7 212.0L318.4 212.7L326.6 226.5L333.5 235.7M244.3 299.0L242.8 297.5L240.8 299.0M199.8 299.0L197.5 296.9M225.7 212.0L227.7 214.9L230.0 212.0L227.7 210.0ZM301.1 226.5L303.3 228.6L305.7 226.5L303.3 224.2ZM227.1 284.5L227.7 285.4L228.4 284.5L227.7 283.6Z" fill="none" stroke="#000" stroke-width="0.5" stroke-opacity="0.18"/>
<path d="M255.5 168.5L255.4 170.9L255.1 183.0L257.9 185.5L272.0 184.0L273.1 184.0L274.2 184.1L288.2 185.7L301.6 195.9L303.3 196.6L304.4 197.5L305.2 199.3L316.0 212.0L318.4 214.3L325.7 226.5L333.5 237.0M245.9 299.0L242.8 296.0L238.7 299.0M201.3 299.0L197.5 295.6M224.4 212.0L227.7 216.7L231.4 212.0L227.7 208.8ZM299.8 226.5L303.3 229.9L307.2 226.5L303.3 222.7ZM225.6 284.5L227.7 287.5L230.0 284.5L227.7 281.5Z" fill="none" stroke="#000" stroke-width="0.5" stroke-opacity="0.18"/>
<path d="M253.8 168.5L253.6 172.6L253.4 183.0L257.9 187.0L270.2 185.8L273.1 185.8L276.2 186.1L288.2 187.4L301.5 197.5L303.3 199.1L314.3 212.0L318.4 216.0L324.7 226.5L333.5 238.4M247.4 299.0L242.8 294.6L236.7 299.0M202.7 299.0L197.5 294.3M223.2 212.0L227.7 218.5L232.8 212.0L227.7 207.5ZM298.4 226.5L303.3 231.2L308.7 226.5L303.3 221.3ZM224.1 284.5L227.7 289.6L231.7 284.5L227.7 279.4Z" fill="none" stroke="#000" stroke-width="0.5" stroke-opacity="0.18"/>
<path d="M252.1 168.5L251.8 174.4L251.6 183.0L257.9 188.6L268.4 187.5L273.1 187.5L278.2 188.0L288.2 189.1L299.3 197.5L303.3 201.1L312.6 212.0L318.4 217.6L323.7 226.5L333.5 239.7M248.9 299.0L242.8 293.1L234.7 299.0M204.2 299.0L197.5 293.0M221.9 212.0L227.7 220.3L234.2 212.0L227.7 206.2ZM272.1 212.0L257.9 225.6L256.2 226.5L242.8 239.3L240.8 241.0L240.8 253.6L240.8 255.5L241.8 269.0L242.0 270.0L242.8 270.5L257.4 270.5L257.9 270.5L265.5 270.0L257.9 268.8L245.2 255.5L245.2 243.2L244.0 241.0L257.9 227.6L262.3 230.6L268.0 226.5L273.1 221.7L278.1 221.7L288.2 212.8L289.2 212.0L288.2 210.9L274.2 210.9L273.1 211.1ZM297.1 226.5L303.3 232.5L310.2 226.5L303.3 219.8ZM222.6 284.5L227.7 291.8L233.3 284.5L227.7 277.2Z" fill="none" stroke="#000" stroke-width="0.5" stroke-opacity="0.18"/>
<path d="M250.4 168.5L250.0 176.1L249.9 183.0L257.9 190.1L266.6 189.2L273.1 189.2L280.2 189.9L288.2 190.8L297.1 197.5L303.3 203.1L310.8 212.0L318.4 219.2L322.7 226.5L333.5 241.0M250.4 299.0L242.8 291.6L232.6 299.0M205.6 299.0L197.5 291.8M220.7 212.0L227.7 222.2L235.6 212.0L227.7 205.0ZM269.9 212.0L257.9 223.4L251.7 226.5L242.8 235.0L235.8 241.0L235.8 248.7L235.8 255.5L236.4 263.8L237.8 270.0L242.8 272.9L254.9 272.9L257.9 272.8L271.0 272.0L273.1 271.6L275.2 270.0L273.1 265.2L267.0 264.2L257.9 262.8L251.0 255.5L251.0 248.8L246.9 241.0L257.9 230.4L273.1 241.0L274.9 226.5L288.2 214.9L291.8 212.0L288.2 208.2L277.0 208.2L273.1 208.7ZM295.7 226.5L303.3 233.8L311.7 226.5L303.3 218.4ZM221.1 284.5L227.7 293.9L234.9 284.5L227.7 275.1Z" fill="none" stroke="#000" stroke-width="0.5" stroke-opacity="0.18"/>
<path d="M248.7 168.5L248.2 177.8L248.1 183.0L257.9 191.6L264.8 190.9L273.1 190.9L282.2 191.8L288.2 192.4L294.8 197.5L303.3 205.2L309.1 212.0L318.4 220.9L321.7 226.5L330.1 237.7L330.4 241.0L333.5 244.6M251.9 299.0L242.8 290.1L230.6 299.0M207.1 299.0L197.5 290.5M219.4 212.0L227.7 224.0L237.0 212.0L227.7 203.8ZM267.6 212.0L257.9 221.2L247.3 226.5L242.8 230.8L230.7 241.0L230.7 243.9L230.7 255.5L231.0 258.6L233.6 270.0L242.8 275.3L252.4 275.3L257.9 275.1L268.4 274.5L273.1 273.6L277.9 270.0L273.1 259.1L259.5 256.9L257.9 256.7L256.8 255.5L256.8 254.4L249.8 241.0L257.9 233.2L269.1 241.0L260.5 253.1L273.1 250.1L275.8 241.0L275.8 238.4L277.3 226.5L288.2 217.0L294.4 212.0L288.2 205.6L279.8 205.6L273.1 206.4ZM294.4 226.5L303.3 235.0L313.3 226.5L303.3 216.9ZM219.6 284.5L227.7 296.0L236.6 284.5L227.7 273.0Z" fill="none" stroke="#000" stroke-width="0.5" stroke-opacity="0.18"/>
<path d="M247.0 168.5L246.4 179.5L246.3 183.0L257.9 193.2L263.0 192.7L273.1 192.7L284.2 193.7L288.2 194.1L292.6 197.5L303.3 207.2L307.4 212.0L318.4 222.5L320.7 226.5L326.6 234.4L327.2 241.0L333.5 248.2M253.4 299.0L242.8 288.6L228.5 299.0M208.5 299.0L197.5 289.2M218.2 212.0L227.7 225.8L238.4 212.0L227.7 202.5ZM265.3 212.0L257.9 219.0L242.8 226.5L227.7 233.8L225.9 241.0L225.9 253.8L225.9 255.5L227.7 262.8L229.4 270.0L242.8 277.7L249.9 277.7L257.9 277.5L265.8 277.0L273.1 275.6L280.6 270.0L274.9 257.3L274.9 255.5L274.6 254.1L278.5 241.0L278.5 235.8L279.7 226.5L288.2 219.0L297.0 212.0L288.2 202.9L282.6 202.9L273.1 204.0ZM293.0 226.5L303.3 236.3L314.8 226.5L303.3 215.5ZM257.9 236.0L265.1 241.0L257.9 251.0L252.7 241.0ZM218.1 284.5L227.7 298.1L238.2 284.5L227.7 270.9Z" fill="none" stroke="#000" stroke-width="0.5" stroke-opacity="0.18"/>
<path d="M245.2 168.5L244.6 181.3L244.6 183.0L257.9 194.7L261.2 194.4L273.1 194.4L286.2 195.6L288.2 195.8L290.4 197.5L303.3 209.2L305.7 212.0L318.4 224.2L319.8 226.5L323.2 231.1L324.1 241.0L333.5 251.9M254.9 299.0L242.8 287.2L231.5 295.4L239.9 284.5L231.5 273.6L242.8 280.1L247.4 280.1L257.9 279.8L263.2 279.5L273.1 277.7L283.3 270.0L279.7 261.8L279.7 255.5L278.3 250.4L281.2 241.0L281.2 233.2L282.0 226.5L288.2 221.1L299.6 212.0L288.2 200.2L285.4 200.2L273.1 201.7L263.0 212.0L257.9 216.8L247.6 222.0L242.8 222.0L231.0 223.4L239.8 212.0L227.7 201.2L216.9 212.0L225.5 224.3L224.9 226.5L224.2 229.8L221.5 241.0L221.5 249.5L221.5 255.5L224.2 266.7L224.9 270.0L224.9 272.7L216.5 284.5L224.9 296.3L223.9 299.0M210.0 299.0L197.5 287.9M291.7 226.5L303.3 237.6L316.3 226.5L303.3 214.0ZM257.9 238.8L261.1 241.0L257.9 245.5L255.6 241.0Z" fill="none" stroke="#000" stroke-width="0.5" stroke-opacity="0.18"/>
</g>
<!-- map borders -->
<rect x="30" y="27" width="136" height="132" fill="none" stroke="#333" stroke-width="0.6" stroke-opacity="0.6"/>
<rect x="199" y="28" width="137" height="131" fill="none" stroke="#333" stroke-width="0.6" stroke-opacity="0.6"/>
<rect x="28.5" y="169.5" width="137" height="131" fill="none" stroke="#333" stroke-width="0.6" stroke-opacity="0.6"/>
<rect x="197.5" y="168.5" width="136" height="130.5" fill="none" stroke="#333" stroke-width="0.6" stroke-opacity="0.6"/>
<!-- scale bars -->
<text class="sb" x="158.8" y="149.1" text-anchor="end">10 µm</text>
<rect x="138.2" y="152.3" width="24.7" height="1.9" fill="#fff"/>
<text class="sb" x="328.7" y="149.5" text-anchor="end">10 µm</text>
<rect x="307.3" y="153.2" width="25.2" height="1.9" fill="#fff"/>
<text class="sb" x="158.3" y="294.5" text-anchor="end">10 µm</text>
<rect x="136.8" y="296.9" width="25.2" height="2.1" fill="#fff"/>
<text class="sb" x="326.9" y="291.8" text-anchor="end">10 µm</text>
<rect x="305.3" y="294.2" width="24.9" height="2" fill="#fff"/>
<!-- colorbars -->
<rect x="170" y="27.50" width="8.7" height="13.47" fill="#ff8000"/>
<rect x="170" y="40.67" width="8.7" height="6.53" fill="#f08800"/>
<rect x="170" y="46.90" width="8.7" height="6.53" fill="#d89800"/>
<rect x="170" y="53.13" width="8.7" height="6.53" fill="#b8a400"/>
<rect x="170" y="59.37" width="8.7" height="6.53" fill="#98b000"/>
<rect x="170" y="65.60" width="8.7" height="6.53" fill="#60c400"/>
<rect x="170" y="71.83" width="8.7" height="50.16" fill="#0eec0e"/>
<rect x="170" y="121.70" width="8.7" height="6.53" fill="#00e448"/>
<rect x="170" y="127.93" width="8.7" height="6.53" fill="#00e884"/>
<rect x="170" y="134.16" width="8.7" height="6.53" fill="#00ecb0"/>
<rect x="170" y="140.39" width="8.7" height="6.53" fill="#00f2d8"/>
<rect x="170" y="146.63" width="8.7" height="11.95" fill="#00fcf8"/>
<text class="cb" x="181.2" y="30.5">3.0</text>
<text class="cb" x="181.2" y="54.7">2.5</text>
<text class="cb" x="181.2" y="81.1">2.1</text>
<text class="cb" x="181.2" y="106.0">1.6</text>
<text class="cb" x="181.2" y="130.9">1.2</text>
<text class="cb" x="181.2" y="155.2">0.7</text>
<rect x="340.2" y="28.00" width="7.9" height="22.20" fill="#0000ff"/>
<rect x="340.2" y="49.90" width="7.9" height="11.20" fill="#2400e4"/>
<rect x="340.2" y="60.80" width="7.9" height="11.20" fill="#4800cc"/>
<rect x="340.2" y="71.70" width="7.9" height="11.20" fill="#6600b8"/>
<rect x="340.2" y="82.60" width="7.9" height="11.20" fill="#8000a8"/>
<rect x="340.2" y="93.50" width="7.9" height="11.20" fill="#9c0094"/>
<rect x="340.2" y="104.40" width="7.9" height="11.20" fill="#b8006c"/>
<rect x="340.2" y="115.30" width="7.9" height="11.20" fill="#d80044"/>
<rect x="340.2" y="126.20" width="7.9" height="11.20" fill="#f00018"/>
<rect x="340.2" y="137.10" width="7.9" height="22.20" fill="#ff0000"/>
<text class="cb" x="350.8" y="41.4">45</text>
<text class="cb" x="350.8" y="96.7">35</text>
<text class="cb" x="350.8" y="150.6">25</text>
<rect x="171.3" y="168.4" width="7.8" height="128.3" fill="#fff" stroke="#888" stroke-width="0.7"/>
<rect x="171.7" y="171.3" width="7" height="124.8" fill="url(#rb3)"/>
<line x1="179.3" y1="171.5" x2="181.3" y2="171.5" stroke="#555" stroke-width="0.6"/>
<text class="cb" x="183.6" y="173.8">2.0</text>
<line x1="179.3" y1="203" x2="181.3" y2="203" stroke="#555" stroke-width="0.6"/>
<text class="cb" x="183.6" y="205.3">1.5</text>
<line x1="179.3" y1="234" x2="181.3" y2="234" stroke="#555" stroke-width="0.6"/>
<text class="cb" x="183.6" y="236.3">1.0</text>
<line x1="179.3" y1="265.6" x2="181.3" y2="265.6" stroke="#555" stroke-width="0.6"/>
<text class="cb" x="183.6" y="267.9">0.5</text>
<line x1="179.3" y1="295.6" x2="181.3" y2="295.6" stroke="#555" stroke-width="0.6"/>
<text class="cb" x="183.6" y="297.9">0.0</text>
<rect x="339.2" y="168.3" width="7.8" height="128.6" fill="#fff" stroke="#888" stroke-width="0.7"/>
<rect x="339.6" y="170.9" width="7" height="125.6" fill="url(#rb4)"/>
<line x1="347.2" y1="170.6" x2="349.2" y2="170.6" stroke="#555" stroke-width="0.6"/>
<text class="cb" x="352.6" y="172.9">100</text>
<line x1="347.2" y1="196.1" x2="349.2" y2="196.1" stroke="#555" stroke-width="0.6"/>
<text class="cb" x="352.6" y="198.4">80</text>
<line x1="347.2" y1="221.1" x2="349.2" y2="221.1" stroke="#555" stroke-width="0.6"/>
<text class="cb" x="352.6" y="223.4">60</text>
<line x1="347.2" y1="246.5" x2="349.2" y2="246.5" stroke="#555" stroke-width="0.6"/>
<text class="cb" x="352.6" y="248.8">40</text>
<line x1="347.2" y1="271.6" x2="349.2" y2="271.6" stroke="#555" stroke-width="0.6"/>
<text class="cb" x="352.6" y="273.9">20</text>
<line x1="347.2" y1="296.3" x2="349.2" y2="296.3" stroke="#555" stroke-width="0.6"/>
<text class="cb" x="352.6" y="298.6">0</text>

<!-- titles -->
<text class="t" x="77.3" y="18.6" font-size="17.4">I<tspan font-size="11.6" dy="3.3">2D</tspan><tspan dy="-3.3">/I</tspan><tspan font-size="11.6" dy="3.3">G</tspan></text>
<text class="t" x="233.2" y="20.7" font-size="17.6">2D FWHM</text>
<text class="t" font-size="17" transform="translate(17.9,90.3) rotate(-90)" text-anchor="middle">Cu</text>
<text class="t" font-size="17" transform="translate(20.2,236.3) rotate(-90)" text-anchor="middle">Ni</text>

<!-- plot 1 -->
<g>
<rect x="385.2" y="33.7" width="152.8" height="120.3" fill="none" stroke="#9a9a9a" stroke-width="1.3"/>
<path d="M406.3 154v2.2M428.3 154v1.3M450.3 154v2.2M472.3 154v1.3M494.3 154v2.2M516.3 154v1.3" stroke="#8a8a8a" stroke-width="0.8"/>
<polyline points="385.5,136 386,131.8 386.5,134.1 387,133 387.5,132.9 388,132.8 388.5,131 389,132.3 389.5,131.5 390,134.8 390.5,131.9 391,131.2 391.5,131 392,130.4 392.5,129.8 393,130.2 393.5,130.6 394,129.8 394.5,130.5 395,129.3 395.5,129.3 396,130.4 396.5,129.4 397,128.3 397.5,128.4 398,128.9 398.5,129.9 399,127.8 399.5,127.7 400,128.6 400.5,126.8 401,127.1 401.5,127.9 402,127.5 402.5,126.9 403,127.2 403.5,124.1 404,127.2 404.5,125.3 405,124.5 405.5,126 406,126.1 406.5,125 407,124.2 407.5,125 408,124.7 408.5,125.7 409,125 409.5,124.3 410,124.8 410.5,123.4 411,122.4 411.5,123 412,121.4 412.5,117.4 413,111.4 413.5,105 414,96.5 414.5,100 415,106.5 415.5,111.6 416,118 416.5,119.9 417,122.6 417.5,120.9 418,122.3 418.5,124 419,124.6 419.5,122.1 420,123.7 420.5,124.4 421,123.6 421.5,125.5 422,123.2 422.5,124.5 423,123.3 423.5,125.4 424,124.2 424.5,123.9 425,122.7 425.5,125.6 426,124.8 426.5,124.7 427,124.9 427.5,124.2 428,123.2 428.5,123 429,122.9 429.5,124.6 430,122.1 430.5,122.8 431,122.9 431.5,123.3 432,123.5 432.5,121.8 433,121.3 433.5,122.7 434,123.6 434.5,123.1 435,122.6 435.5,122 436,122.4 436.5,121.9 437,122.7 437.5,121.3 438,122 438.5,121.7 439,122.2 439.5,121.9 440,123.8 440.5,122.8 441,122.7 441.5,119.6 442,121 442.5,120.7 443,121.6 443.5,119.2 444,122 444.5,121.8 445,119.8 445.5,120 446,120 446.5,120.7 447,121.1 447.5,122.2 448,120.3 448.5,121 449,120.4 449.5,121.7 450,120.5 450.5,119.8 451,114.8 451.5,113 452,115 452.5,119.7 453,120.1 453.5,119.5 454,119.4 454.5,120.2 455,119.1 455.5,118.9 456,120.1 456.5,121.7 457,119.4 457.5,119.1 458,118.6 458.5,118.5 459,120.1 459.5,120.4 460,119.7 460.5,120.1 461,119.9 461.5,119.9 462,118.6 462.5,119.5 463,120 463.5,119.3 464,119.6 464.5,119.3 465,119.7 465.5,120.8 466,119.7 466.5,120 467,120.8 467.5,120.7 468,121.6 468.5,118.4 469,121 469.5,119.8 470,120.4 470.5,121 471,121.3 471.5,121.3 472,120.6 472.5,121.9 473,120.3 473.5,120.5 474,121.4 474.5,120.3 475,122.6 475.5,121.7 476,122.7 476.5,120.9 477,120.7 477.5,121.2 478,121.7 478.5,120.6 479,121.5 479.5,121 480,122.2 480.5,120.1 481,121.3 481.5,119.7 482,119.3 482.5,119.3 483,118.7 483.5,119.7 484,120.2 484.5,119.3 485,119.5 485.5,120.2 486,118.9 486.5,118.6 487,118 487.5,116.7 488,118.6 488.5,116.2 489,118.1 489.5,117.4 490,118.2 490.5,117.1 491,116.3 491.5,117.2 492,116.3 492.5,116.4 493,116.5 493.5,116.2 494,116 494.5,115.3 495,115.8 495.5,114 496,115.5 496.5,114.5 497,116.3 497.5,116.3 498,113.4 498.5,115.1 499,114.7 499.5,113.8 500,115 500.5,114 501,112.7 501.5,113.8 502,113.8 502.5,113.8 503,112.6 503.5,114 504,113.8 504.5,111.8 505,111.9 505.5,112 506,111.2 506.5,112.8 507,111 507.5,109.5 508,109.1 508.5,108.8 509,109.2 509.5,104.3 510,99.6 510.5,92.2 511,80.9 511.5,69.9 512,54.5 512.5,47.7 513,50.4 513.5,62 514,73.2 514.5,87 515,93.8 515.5,99.3 516,101.4 516.5,103 517,104.6 517.5,105.1 518,104.8 518.5,105.3 519,105 519.5,104.4 520,105.1 520.5,105 521,104.4 521.5,105.1 522,105.6 522.5,104.7 523,104.1 523.5,105 524,106 524.5,104.2 525,104.3 525.5,104.2 526,105.2 526.5,102.3 527,104 527.5,104.4 528,102.5 528.5,104.2 529,103.2 529.5,102 530,102.4 530.5,100.7 531,101.3 531.5,103.1 532,100.6 532.5,102.6 533,100.8 533.5,101.4 534,100.4 534.5,98.2 535,99.4 535.5,99.8 536,98.4 536.5,98 537,99.2 537.5,98.1" fill="none" stroke="#1a1a1a" stroke-width="0.75"/>
<text class="ax" x="406.3" y="162" text-anchor="middle">1500</text>
<text class="ax" x="450.3" y="162" text-anchor="middle">2000</text>
<text class="ax" x="494.3" y="162" text-anchor="middle">2500</text>
<text class="ax" x="538" y="162" text-anchor="middle">3000</text>
<text class="lb" x="428.3" y="173.9" textLength="54.3" lengthAdjust="spacingAndGlyphs">Raman shift (cm<tspan font-size="4.3" dy="-3">-1</tspan><tspan dy="3">)</tspan></text>
<text class="yl" transform="translate(376.2,120.2) rotate(-90)" textLength="58" lengthAdjust="spacingAndGlyphs">Raman Intensity (a.u)</text>
<text class="pk" x="392.7" y="110.3" text-anchor="middle">D</text>
<text class="pk" x="414" y="94.6" text-anchor="middle">G</text>
<text class="pk" x="512" y="45" text-anchor="middle">2D</text>
</g>
<!-- plot 2 -->
<g>
<rect x="382" y="181.6" width="154" height="123.4" fill="none" stroke="#9a9a9a" stroke-width="1.3"/>
<path d="M382 305v2.2M401.25 305v1.3M420.5 305v2.2M439.75 305v1.3M459 305v2.2M478.25 305v1.3M497.5 305v2.2M516.75 305v1.3M536 305v2.2" stroke="#8a8a8a" stroke-width="0.8"/>
<polyline points="382.5,292.7 383,293 383.5,293.3 384,293 384.5,293.3 385,293.5 385.5,293.1 386,292.8 386.5,292.7 387,293 387.5,293.2 388,293 388.5,293.1 389,292.8 389.5,293 390,292.8 390.5,292.8 391,292.5 391.5,292.4 392,292.7 392.5,292.5 393,292.5 393.5,292.9 394,292.7 394.5,293.4 395,292.9 395.5,292.5 396,292.8 396.5,292.7 397,292.4 397.5,292.9 398,292.4 398.5,291.8 399,292.7 399.5,292.4 400,292.9 400.5,292.3 401,292.1 401.5,292.8 402,292.1 402.5,292.4 403,292.7 403.5,292.3 404,292.2 404.5,292.2 405,292.3 405.5,291.8 406,291.9 406.5,291.7 407,291.7 407.5,290.6 408,290 408.5,289.9 409,289.2 409.5,289.2 410,289.4 410.5,290 411,290.1 411.5,290.7 412,290.5 412.5,291.3 413,292.2 413.5,291.8 414,291.9 414.5,291.9 415,292.4 415.5,292.3 416,291.9 416.5,292.3 417,292.2 417.5,292.3 418,291.9 418.5,292.4 419,292 419.5,291.8 420,291.6 420.5,291.6 421,291.8 421.5,291.3 422,291.5 422.5,291.1 423,290.8 423.5,289.5 424,286.2 424.5,279 425,266.8 425.5,247.7 426,225.1 426.5,209.8 427,216.9 427.5,238.5 428,259.5 428.5,275.5 429,284.1 429.5,288.1 430,289.7 430.5,290.6 431,291.4 431.5,291.3 432,291.1 432.5,291.8 433,291.9 433.5,291.9 434,292 434.5,292.2 435,292.1 435.5,292.2 436,291.9 436.5,292.5 437,292.3 437.5,292.8 438,291.8 438.5,292.5 439,292.7 439.5,292.4 440,292.6 440.5,292.8 441,292.8 441.5,292.5 442,292.7 442.5,293 443,293 443.5,292.7 444,292.7 444.5,292.7 445,293 445.5,292.4 446,292.4 446.5,292.7 447,292.4 447.5,292.5 448,292.7 448.5,292.8 449,292.4 449.5,292.9 450,292.2 450.5,292.8 451,292.3 451.5,292.3 452,292.8 452.5,292.5 453,292.4 453.5,292.5 454,292.7 454.5,292.6 455,292.6 455.5,292.9 456,292.4 456.5,292.5 457,292.5 457.5,292.9 458,292.8 458.5,292.9 459,292.6 459.5,292.5 460,292.8 460.5,292.5 461,292.8 461.5,292.7 462,292.4 462.5,292.5 463,292.5 463.5,293 464,293.2 464.5,292.5 465,292.5 465.5,291.9 466,292.6 466.5,292.5 467,292.2 467.5,292.7 468,292.1 468.5,292.4 469,292.5 469.5,292.2 470,292.7 470.5,292.7 471,292.1 471.5,292 472,292.5 472.5,292.3 473,292 473.5,292.2 474,292.3 474.5,292.2 475,292.4 475.5,292.3 476,292.6 476.5,292.5 477,292.3 477.5,292.4 478,292.4 478.5,292.2 479,291.7 479.5,292.2 480,292 480.5,292.4 481,292 481.5,292 482,292 482.5,292.3 483,291.9 483.5,291.7 484,291.8 484.5,291.6 485,291.7 485.5,291.7 486,291.7 486.5,292 487,291.4 487.5,291.4 488,291.3 488.5,291.4 489,290.9 489.5,290.9 490,290.9 490.5,291 491,290.8 491.5,290.5 492,290.3 492.5,290.6 493,290.7 493.5,290.4 494,290.4 494.5,290.4 495,290.1 495.5,290.4 496,290.5 496.5,290.7 497,290.7 497.5,290.5 498,291.2 498.5,291.4 499,291 499.5,291.2 500,291.2 500.5,291.4 501,290.8 501.5,291.6 502,291.1 502.5,291.5 503,291.2 503.5,291.1 504,291.1 504.5,291.3 505,290.8 505.5,290.8 506,290.6 506.5,290 507,290.3 507.5,289.4 508,288.2 508.5,286.9 509,284.3 509.5,281.8 510,278.9 510.5,274.8 511,269.7 511.5,264.9 512,261.1 512.5,258 513,255.6 513.5,255.9 514,258.5 514.5,262 515,266.7 515.5,271.3 516,275.5 516.5,279.3 517,282.3 517.5,285.1 518,286.9 518.5,288.7 519,290 519.5,289.8 520,289.9 520.5,290.6 521,291 521.5,291.3 522,291.4 522.5,290.9 523,291 523.5,291.5 524,291 524.5,291.5 525,291.2 525.5,291.5 526,291.5 526.5,291.5 527,291.5 527.5,291.1 528,291.4 528.5,291.4 529,291.5 529.5,291.7 530,291.3 530.5,291.2 531,291.2 531.5,291.3 532,291.6 532.5,291.2 533,291.7 533.5,291.5 534,291.4 534.5,291.1 535,291.5 535.5,291.6" fill="none" stroke="#222" stroke-width="1.05"/>
<text class="ax" x="382" y="313" text-anchor="middle">1000</text>
<text class="ax" x="420.5" y="313" text-anchor="middle">1500</text>
<text class="ax" x="459" y="313" text-anchor="middle">2000</text>
<text class="ax" x="497.5" y="313" text-anchor="middle">2500</text>
<text class="ax" x="536" y="313" text-anchor="middle">3000</text>
<text class="lb" x="427.1" y="325.8" textLength="54.3" lengthAdjust="spacingAndGlyphs">Raman shift (cm<tspan font-size="4.3" dy="-3">-1</tspan><tspan dy="3">)</tspan></text>
<text class="yl" transform="translate(371.9,263.4) rotate(-90)" textLength="58.4" lengthAdjust="spacingAndGlyphs">Raman Intensity (a.u.)</text>
<text class="pk" x="408.7" y="283.3" text-anchor="middle">D</text>
<text class="pk" x="426" y="205" text-anchor="middle">G</text>
<text class="pk" x="513" y="248.2" text-anchor="middle">2D</text>
</g>
</svg>
</body></html>
